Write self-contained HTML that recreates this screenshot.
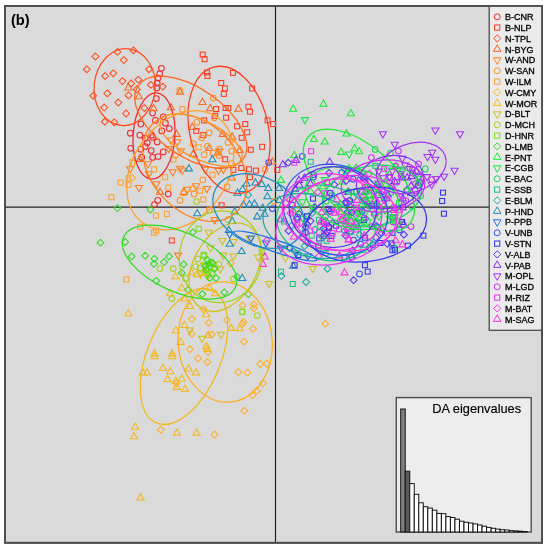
<!DOCTYPE html>
<html><head><meta charset="utf-8"><title>DAPC scatter (b)</title>
<style>html,body{margin:0;padding:0;background:#fff}svg{display:block}</style></head>
<body>
<svg width="547" height="550" viewBox="0 0 547 550" font-family="'Liberation Sans', Arial, sans-serif">
<rect x="0" y="0" width="547" height="550" fill="#fff"/>
<rect x="4.9" y="5.9" width="537.2" height="536.9" fill="#dadada" stroke="#4d4d4d" stroke-width="1.8"/>
<line x1="4.9" x2="542.1" y1="207.2" y2="207.2" stroke="#222" stroke-width="1.2"/>
<line y1="5.9" y2="542.8" x1="275.5" x2="275.5" stroke="#222" stroke-width="1.2"/>
<g id="pts">
<circle cx="161.4" cy="68.3" r="2.85" fill="none" stroke="#f02a30" stroke-width="1.05"/>
<circle cx="159.6" cy="73.8" r="2.85" fill="none" stroke="#f02a30" stroke-width="1.05"/>
<circle cx="158.1" cy="78.0" r="2.85" fill="none" stroke="#f02a30" stroke-width="1.05"/>
<circle cx="157.2" cy="83.0" r="2.85" fill="none" stroke="#f02a30" stroke-width="1.05"/>
<circle cx="156.7" cy="87.9" r="2.85" fill="none" stroke="#f02a30" stroke-width="1.05"/>
<circle cx="156.3" cy="98.5" r="2.85" fill="none" stroke="#f02a30" stroke-width="1.05"/>
<circle cx="152.6" cy="113.1" r="2.85" fill="none" stroke="#f02a30" stroke-width="1.05"/>
<circle cx="163.2" cy="116.8" r="2.85" fill="none" stroke="#f02a30" stroke-width="1.05"/>
<circle cx="155.4" cy="120.4" r="2.85" fill="none" stroke="#f02a30" stroke-width="1.05"/>
<circle cx="140.8" cy="124.1" r="2.85" fill="none" stroke="#f02a30" stroke-width="1.05"/>
<circle cx="161.8" cy="130.9" r="2.85" fill="none" stroke="#f02a30" stroke-width="1.05"/>
<circle cx="130.3" cy="133.2" r="2.85" fill="none" stroke="#f02a30" stroke-width="1.05"/>
<circle cx="139.8" cy="135.1" r="2.85" fill="none" stroke="#f02a30" stroke-width="1.05"/>
<circle cx="151.7" cy="135.1" r="2.85" fill="none" stroke="#f02a30" stroke-width="1.05"/>
<circle cx="165.4" cy="123.2" r="2.85" fill="none" stroke="#f02a30" stroke-width="1.05"/>
<circle cx="145.3" cy="138.2" r="2.85" fill="none" stroke="#f02a30" stroke-width="1.05"/>
<circle cx="152.6" cy="137.3" r="2.85" fill="none" stroke="#f02a30" stroke-width="1.05"/>
<circle cx="147.2" cy="142.8" r="2.85" fill="none" stroke="#f02a30" stroke-width="1.05"/>
<circle cx="157.2" cy="141.9" r="2.85" fill="none" stroke="#f02a30" stroke-width="1.05"/>
<circle cx="130.7" cy="148.3" r="2.85" fill="none" stroke="#f02a30" stroke-width="1.05"/>
<circle cx="140.8" cy="149.2" r="2.85" fill="none" stroke="#f02a30" stroke-width="1.05"/>
<circle cx="145.3" cy="146.5" r="2.85" fill="none" stroke="#f02a30" stroke-width="1.05"/>
<circle cx="152.6" cy="157.4" r="2.85" fill="none" stroke="#f02a30" stroke-width="1.05"/>
<circle cx="158.1" cy="156.5" r="2.85" fill="none" stroke="#f02a30" stroke-width="1.05"/>
<circle cx="163.2" cy="151.9" r="2.85" fill="none" stroke="#f02a30" stroke-width="1.05"/>
<circle cx="151.2" cy="150.5" r="2.85" fill="none" stroke="#f02a30" stroke-width="1.05"/>
<circle cx="168.2" cy="194.0" r="2.85" fill="none" stroke="#f02a30" stroke-width="1.05"/>
<circle cx="157.8" cy="200.4" r="2.85" fill="none" stroke="#f02a30" stroke-width="1.05"/>
<circle cx="154.5" cy="204.6" r="2.85" fill="none" stroke="#f02a30" stroke-width="1.05"/>
<circle cx="141.7" cy="157.4" r="2.85" fill="none" stroke="#f02a30" stroke-width="1.05"/>
<circle cx="169.3" cy="128.5" r="2.85" fill="none" stroke="#f02a30" stroke-width="1.05"/>
<rect x="200.22" y="52.12" width="4.96" height="4.96" fill="none" stroke="#ff3a20" stroke-width="1.05"/>
<rect x="202.12" y="56.72" width="4.96" height="4.96" fill="none" stroke="#ff3a20" stroke-width="1.05"/>
<rect x="204.42" y="70.02" width="4.96" height="4.96" fill="none" stroke="#ff3a20" stroke-width="1.05"/>
<rect x="205.02" y="73.52" width="4.96" height="4.96" fill="none" stroke="#ff3a20" stroke-width="1.05"/>
<rect x="230.42" y="70.42" width="4.96" height="4.96" fill="none" stroke="#ff3a20" stroke-width="1.05"/>
<rect x="218.72" y="80.52" width="4.96" height="4.96" fill="none" stroke="#ff3a20" stroke-width="1.05"/>
<rect x="222.42" y="85.92" width="4.96" height="4.96" fill="none" stroke="#ff3a20" stroke-width="1.05"/>
<rect x="221.32" y="91.42" width="4.96" height="4.96" fill="none" stroke="#ff3a20" stroke-width="1.05"/>
<rect x="249.62" y="85.92" width="4.96" height="4.96" fill="none" stroke="#ff3a20" stroke-width="1.05"/>
<rect x="213.62" y="106.62" width="4.96" height="4.96" fill="none" stroke="#ff3a20" stroke-width="1.05"/>
<rect x="223.12" y="105.52" width="4.96" height="4.96" fill="none" stroke="#ff3a20" stroke-width="1.05"/>
<rect x="225.82" y="105.52" width="4.96" height="4.96" fill="none" stroke="#ff3a20" stroke-width="1.05"/>
<rect x="245.92" y="104.22" width="4.96" height="4.96" fill="none" stroke="#ff3a20" stroke-width="1.05"/>
<rect x="247.42" y="109.22" width="4.96" height="4.96" fill="none" stroke="#ff3a20" stroke-width="1.05"/>
<rect x="212.72" y="113.42" width="4.96" height="4.96" fill="none" stroke="#ff3a20" stroke-width="1.05"/>
<rect x="223.62" y="115.22" width="4.96" height="4.96" fill="none" stroke="#ff3a20" stroke-width="1.05"/>
<rect x="201.72" y="117.92" width="4.96" height="4.96" fill="none" stroke="#ff3a20" stroke-width="1.05"/>
<rect x="242.82" y="121.62" width="4.96" height="4.96" fill="none" stroke="#ff3a20" stroke-width="1.05"/>
<rect x="234.62" y="123.82" width="4.96" height="4.96" fill="none" stroke="#ff3a20" stroke-width="1.05"/>
<rect x="265.12" y="117.92" width="4.96" height="4.96" fill="none" stroke="#ff3a20" stroke-width="1.05"/>
<rect x="270.62" y="121.62" width="4.96" height="4.96" fill="none" stroke="#ff3a20" stroke-width="1.05"/>
<rect x="244.72" y="129.82" width="4.96" height="4.96" fill="none" stroke="#ff3a20" stroke-width="1.05"/>
<rect x="193.82" y="128.42" width="4.96" height="4.96" fill="none" stroke="#ff3a20" stroke-width="1.05"/>
<rect x="200.82" y="132.62" width="4.96" height="4.96" fill="none" stroke="#ff3a20" stroke-width="1.05"/>
<rect x="239.22" y="135.32" width="4.96" height="4.96" fill="none" stroke="#ff3a20" stroke-width="1.05"/>
<rect x="259.62" y="144.32" width="4.96" height="4.96" fill="none" stroke="#ff3a20" stroke-width="1.05"/>
<rect x="248.32" y="147.22" width="4.96" height="4.96" fill="none" stroke="#ff3a20" stroke-width="1.05"/>
<rect x="222.72" y="156.82" width="4.96" height="4.96" fill="none" stroke="#ff3a20" stroke-width="1.05"/>
<rect x="238.82" y="165.52" width="4.96" height="4.96" fill="none" stroke="#ff3a20" stroke-width="1.05"/>
<rect x="230.92" y="167.42" width="4.96" height="4.96" fill="none" stroke="#ff3a20" stroke-width="1.05"/>
<rect x="246.52" y="166.82" width="4.96" height="4.96" fill="none" stroke="#ff3a20" stroke-width="1.05"/>
<rect x="253.42" y="168.12" width="4.96" height="4.96" fill="none" stroke="#ff3a20" stroke-width="1.05"/>
<rect x="247.42" y="174.72" width="4.96" height="4.96" fill="none" stroke="#ff3a20" stroke-width="1.05"/>
<rect x="274.82" y="167.42" width="4.96" height="4.96" fill="none" stroke="#ff3a20" stroke-width="1.05"/>
<rect x="219.12" y="202.82" width="4.96" height="4.96" fill="none" stroke="#ff3a20" stroke-width="1.05"/>
<rect x="169.32" y="238.02" width="4.96" height="4.96" fill="none" stroke="#ff3a20" stroke-width="1.05"/>
<path d="M95.4 53.08L98.82 56.5L95.4 59.92L91.98 56.5Z" fill="none" stroke="#ff4c1c" stroke-width="1.05"/>
<path d="M86.8 65.88L90.22 69.3L86.8 72.72L83.38 69.3Z" fill="none" stroke="#ff4c1c" stroke-width="1.05"/>
<path d="M117.5 48.48L120.92 51.9L117.5 55.32L114.08 51.9Z" fill="none" stroke="#ff4c1c" stroke-width="1.05"/>
<path d="M133.4 46.98L136.82 50.4L133.4 53.82L129.98 50.4Z" fill="none" stroke="#ff4c1c" stroke-width="1.05"/>
<path d="M123.8 56.68L127.22 60.1L123.8 63.52L120.38 60.1Z" fill="none" stroke="#ff4c1c" stroke-width="1.05"/>
<path d="M113.3 69.88L116.72 73.3L113.3 76.72L109.88 73.3Z" fill="none" stroke="#ff4c1c" stroke-width="1.05"/>
<path d="M105.1 72.58L108.52 76.0L105.1 79.42L101.68 76.0Z" fill="none" stroke="#ff4c1c" stroke-width="1.05"/>
<path d="M122.5 77.68L125.92 81.1L122.5 84.52L119.08 81.1Z" fill="none" stroke="#ff4c1c" stroke-width="1.05"/>
<path d="M138.4 76.28L141.82 79.7L138.4 83.12L134.98 79.7Z" fill="none" stroke="#ff4c1c" stroke-width="1.05"/>
<path d="M131.1 80.08L134.52 83.5L131.1 86.92L127.68 83.5Z" fill="none" stroke="#ff4c1c" stroke-width="1.05"/>
<path d="M149.0 65.88L152.42 69.3L149.0 72.72L145.58 69.3Z" fill="none" stroke="#ff4c1c" stroke-width="1.05"/>
<path d="M150.8 81.38L154.22 84.8L150.8 88.22L147.38 84.8Z" fill="none" stroke="#ff4c1c" stroke-width="1.05"/>
<path d="M136.7 85.98L140.12 89.4L136.7 92.82L133.28 89.4Z" fill="none" stroke="#ff4c1c" stroke-width="1.05"/>
<path d="M128.5 91.98L131.92 95.4L128.5 98.82L125.08 95.4Z" fill="none" stroke="#ff4c1c" stroke-width="1.05"/>
<path d="M107.3 89.98L110.72 93.4L107.3 96.82L103.88 93.4Z" fill="none" stroke="#ff4c1c" stroke-width="1.05"/>
<path d="M93.2 92.38L96.62 95.8L93.2 99.22L89.78 95.8Z" fill="none" stroke="#ff4c1c" stroke-width="1.05"/>
<path d="M118.3 99.08L121.72 102.5L118.3 105.92L114.88 102.5Z" fill="none" stroke="#ff4c1c" stroke-width="1.05"/>
<path d="M104.2 104.18L107.62 107.6L104.2 111.02L100.78 107.6Z" fill="none" stroke="#ff4c1c" stroke-width="1.05"/>
<path d="M126.1 110.08L129.52 113.5L126.1 116.92L122.68 113.5Z" fill="none" stroke="#ff4c1c" stroke-width="1.05"/>
<path d="M104.7 118.28L108.12 121.7L104.7 125.12L101.28 121.7Z" fill="none" stroke="#ff4c1c" stroke-width="1.05"/>
<path d="M114.3 118.88L117.72 122.3L114.3 125.72L110.88 122.3Z" fill="none" stroke="#ff4c1c" stroke-width="1.05"/>
<path d="M144.4 104.58L147.82 108.0L144.4 111.42L140.98 108.0Z" fill="none" stroke="#ff4c1c" stroke-width="1.05"/>
<path d="M162.7 83.18L166.12 86.6L162.7 90.02L159.28 86.6Z" fill="none" stroke="#ff4c1c" stroke-width="1.05"/>
<path d="M128.3 83.77L131.88 89.97L124.72 89.97Z" fill="none" stroke="#ff661a" stroke-width="1.05"/>
<path d="M138.9 92.57L142.48 98.77L135.32 98.77Z" fill="none" stroke="#ff661a" stroke-width="1.05"/>
<path d="M153.6 104.47L157.18 110.67L150.02 110.67Z" fill="none" stroke="#ff661a" stroke-width="1.05"/>
<path d="M170.9 103.47L174.48 109.67L167.32 109.67Z" fill="none" stroke="#ff661a" stroke-width="1.05"/>
<path d="M180.1 87.97L183.68 94.17L176.52 94.17Z" fill="none" stroke="#ff661a" stroke-width="1.05"/>
<path d="M202.4 98.37L205.98 104.57L198.82 104.57Z" fill="none" stroke="#ff661a" stroke-width="1.05"/>
<path d="M210.2 104.47L213.78 110.67L206.62 110.67Z" fill="none" stroke="#ff661a" stroke-width="1.05"/>
<path d="M238.4 104.97L241.98 111.17L234.82 111.17Z" fill="none" stroke="#ff661a" stroke-width="1.05"/>
<path d="M222.8 130.37L226.38 136.57L219.22 136.57Z" fill="none" stroke="#ff661a" stroke-width="1.05"/>
<path d="M239.8 146.37L243.38 152.57L236.22 152.57Z" fill="none" stroke="#ff661a" stroke-width="1.05"/>
<path d="M217.9 148.77L221.48 154.97L214.32 154.97Z" fill="none" stroke="#ff661a" stroke-width="1.05"/>
<path d="M272.4 157.87L275.98 164.07L268.82 164.07Z" fill="none" stroke="#ff661a" stroke-width="1.05"/>
<path d="M139.8 155.17L143.38 161.37L136.22 161.37Z" fill="none" stroke="#ff661a" stroke-width="1.05"/>
<path d="M160.0 188.07L163.58 194.27L156.42 194.27Z" fill="none" stroke="#ff661a" stroke-width="1.05"/>
<path d="M176.6 130.17L180.18 136.37L173.02 136.37Z" fill="none" stroke="#ff661a" stroke-width="1.05"/>
<path d="M183.7 188.37L187.28 194.57L180.12 194.57Z" fill="none" stroke="#ff661a" stroke-width="1.05"/>
<path d="M232.2 132.97L235.78 139.17L228.62 139.17Z" fill="none" stroke="#ff661a" stroke-width="1.05"/>
<path d="M193.3 150.17L196.88 156.37L189.72 156.37Z" fill="none" stroke="#ff661a" stroke-width="1.05"/>
<path d="M209.3 144.27L212.88 150.47L205.72 150.47Z" fill="none" stroke="#ff661a" stroke-width="1.05"/>
<path d="M231.7 173.87L235.28 180.07L228.12 180.07Z" fill="none" stroke="#ff661a" stroke-width="1.05"/>
<path d="M192.3 123.17L195.88 129.37L188.72 129.37Z" fill="none" stroke="#ff661a" stroke-width="1.05"/>
<path d="M223.4 173.43L226.98 167.23L219.82 167.23Z" fill="none" stroke="#ff7e1e" stroke-width="1.05"/>
<path d="M206.9 192.63L210.48 186.43L203.32 186.43Z" fill="none" stroke="#ff7e1e" stroke-width="1.05"/>
<path d="M196.0 189.93L199.58 183.73L192.42 183.73Z" fill="none" stroke="#ff7e1e" stroke-width="1.05"/>
<path d="M205.1 173.43L208.68 167.23L201.52 167.23Z" fill="none" stroke="#ff7e1e" stroke-width="1.05"/>
<path d="M130.2 173.03L133.78 166.83L126.62 166.83Z" fill="none" stroke="#ff7e1e" stroke-width="1.05"/>
<path d="M138.9 191.73L142.48 185.53L135.32 185.53Z" fill="none" stroke="#ff7e1e" stroke-width="1.05"/>
<path d="M148.1 167.93L151.68 161.73L144.52 161.73Z" fill="none" stroke="#ff7e1e" stroke-width="1.05"/>
<path d="M149.0 178.03L152.58 171.83L145.42 171.83Z" fill="none" stroke="#ff7e1e" stroke-width="1.05"/>
<path d="M156.3 188.03L159.88 181.83L152.72 181.83Z" fill="none" stroke="#ff7e1e" stroke-width="1.05"/>
<path d="M180.1 172.53L183.68 166.33L176.52 166.33Z" fill="none" stroke="#ff7e1e" stroke-width="1.05"/>
<path d="M170.9 144.23L174.48 138.03L167.32 138.03Z" fill="none" stroke="#ff7e1e" stroke-width="1.05"/>
<path d="M177.3 146.03L180.88 139.83L173.72 139.83Z" fill="none" stroke="#ff7e1e" stroke-width="1.05"/>
<path d="M178.2 259.33L181.78 253.13L174.62 253.13Z" fill="none" stroke="#ff7e1e" stroke-width="1.05"/>
<path d="M180.9 155.03L184.48 148.83L177.32 148.83Z" fill="none" stroke="#ff7e1e" stroke-width="1.05"/>
<path d="M182.5 174.23L186.08 168.03L178.92 168.03Z" fill="none" stroke="#ff7e1e" stroke-width="1.05"/>
<path d="M218.4 174.33L221.98 168.13L214.82 168.13Z" fill="none" stroke="#ff7e1e" stroke-width="1.05"/>
<path d="M214.6 223.63L218.18 217.43L211.02 217.43Z" fill="none" stroke="#ff7e1e" stroke-width="1.05"/>
<path d="M187.4 193.43L190.98 187.23L183.82 187.23Z" fill="none" stroke="#ff7e1e" stroke-width="1.05"/>
<path d="M168.9 152.63L172.48 146.43L165.32 146.43Z" fill="none" stroke="#ff7e1e" stroke-width="1.05"/>
<path d="M172.7 176.03L176.28 169.83L169.12 169.83Z" fill="none" stroke="#ff7e1e" stroke-width="1.05"/>
<path d="M219.2 155.13L222.78 148.93L215.62 148.93Z" fill="none" stroke="#ff7e1e" stroke-width="1.05"/>
<circle cx="179.7" cy="90.3" r="2.85" fill="none" stroke="#ff9228" stroke-width="1.05"/>
<circle cx="213.3" cy="98.1" r="2.85" fill="none" stroke="#ff9228" stroke-width="1.05"/>
<circle cx="214.3" cy="117.7" r="2.85" fill="none" stroke="#ff9228" stroke-width="1.05"/>
<circle cx="196.9" cy="122.3" r="2.85" fill="none" stroke="#ff9228" stroke-width="1.05"/>
<circle cx="228.0" cy="142.4" r="2.85" fill="none" stroke="#ff9228" stroke-width="1.05"/>
<circle cx="231.6" cy="151.0" r="2.85" fill="none" stroke="#ff9228" stroke-width="1.05"/>
<circle cx="204.2" cy="154.7" r="2.85" fill="none" stroke="#ff9228" stroke-width="1.05"/>
<circle cx="193.2" cy="143.7" r="2.85" fill="none" stroke="#ff9228" stroke-width="1.05"/>
<circle cx="227.0" cy="186.7" r="2.85" fill="none" stroke="#ff9228" stroke-width="1.05"/>
<circle cx="265.1" cy="169.3" r="2.85" fill="none" stroke="#ff9228" stroke-width="1.05"/>
<circle cx="274.2" cy="201.3" r="2.85" fill="none" stroke="#ff9228" stroke-width="1.05"/>
<circle cx="180.1" cy="200.4" r="2.85" fill="none" stroke="#ff9228" stroke-width="1.05"/>
<circle cx="175.5" cy="155.6" r="2.85" fill="none" stroke="#ff9228" stroke-width="1.05"/>
<circle cx="182.4" cy="109.3" r="2.85" fill="none" stroke="#ff9228" stroke-width="1.05"/>
<circle cx="201.8" cy="137.8" r="2.85" fill="none" stroke="#ff9228" stroke-width="1.05"/>
<circle cx="202.8" cy="179.8" r="2.85" fill="none" stroke="#ff9228" stroke-width="1.05"/>
<circle cx="194.1" cy="193.9" r="2.85" fill="none" stroke="#ff9228" stroke-width="1.05"/>
<circle cx="209.4" cy="209.9" r="2.85" fill="none" stroke="#ff9228" stroke-width="1.05"/>
<circle cx="219.4" cy="149.0" r="2.85" fill="none" stroke="#ff9228" stroke-width="1.05"/>
<circle cx="231.4" cy="163.7" r="2.85" fill="none" stroke="#ff9228" stroke-width="1.05"/>
<circle cx="209.1" cy="132.9" r="2.85" fill="none" stroke="#ff9228" stroke-width="1.05"/>
<circle cx="219.0" cy="155.4" r="2.85" fill="none" stroke="#ff9228" stroke-width="1.05"/>
<circle cx="213.1" cy="153.1" r="2.85" fill="none" stroke="#ff9228" stroke-width="1.05"/>
<circle cx="207.4" cy="146.1" r="2.85" fill="none" stroke="#ff9228" stroke-width="1.05"/>
<rect x="196.22" y="144.92" width="4.96" height="4.96" fill="none" stroke="#ffa02c" stroke-width="1.05"/>
<rect x="209.92" y="172.32" width="4.96" height="4.96" fill="none" stroke="#ffa02c" stroke-width="1.05"/>
<rect x="200.82" y="197.02" width="4.96" height="4.96" fill="none" stroke="#ffa02c" stroke-width="1.05"/>
<rect x="109.02" y="194.82" width="4.96" height="4.96" fill="none" stroke="#ffa02c" stroke-width="1.05"/>
<rect x="118.12" y="180.22" width="4.96" height="4.96" fill="none" stroke="#ffa02c" stroke-width="1.05"/>
<rect x="125.82" y="175.92" width="4.96" height="4.96" fill="none" stroke="#ffa02c" stroke-width="1.05"/>
<rect x="126.02" y="182.32" width="4.96" height="4.96" fill="none" stroke="#ffa02c" stroke-width="1.05"/>
<rect x="129.72" y="160.02" width="4.96" height="4.96" fill="none" stroke="#ffa02c" stroke-width="1.05"/>
<rect x="151.62" y="166.82" width="4.96" height="4.96" fill="none" stroke="#ffa02c" stroke-width="1.05"/>
<rect x="162.62" y="174.72" width="4.96" height="4.96" fill="none" stroke="#ffa02c" stroke-width="1.05"/>
<rect x="165.72" y="185.12" width="4.96" height="4.96" fill="none" stroke="#ffa02c" stroke-width="1.05"/>
<rect x="153.42" y="213.12" width="4.96" height="4.96" fill="none" stroke="#ffa02c" stroke-width="1.05"/>
<rect x="164.42" y="211.62" width="4.96" height="4.96" fill="none" stroke="#ffa02c" stroke-width="1.05"/>
<rect x="181.22" y="190.62" width="4.96" height="4.96" fill="none" stroke="#ffa02c" stroke-width="1.05"/>
<rect x="123.92" y="277.02" width="4.96" height="4.96" fill="none" stroke="#ffa02c" stroke-width="1.05"/>
<rect x="151.42" y="230.22" width="4.96" height="4.96" fill="none" stroke="#ffa02c" stroke-width="1.05"/>
<rect x="153.72" y="228.02" width="4.96" height="4.96" fill="none" stroke="#ffa02c" stroke-width="1.05"/>
<rect x="137.82" y="224.32" width="4.96" height="4.96" fill="none" stroke="#ffa02c" stroke-width="1.05"/>
<rect x="190.22" y="186.12" width="4.96" height="4.96" fill="none" stroke="#ffa02c" stroke-width="1.05"/>
<rect x="197.62" y="188.22" width="4.96" height="4.96" fill="none" stroke="#ffa02c" stroke-width="1.05"/>
<rect x="170.92" y="157.12" width="4.96" height="4.96" fill="none" stroke="#ffa02c" stroke-width="1.05"/>
<path d="M325.3 320.28L328.72 323.7L325.3 327.12L321.88 323.7Z" fill="none" stroke="#ffae22" stroke-width="1.05"/>
<path d="M132.2 174.48L135.62 177.9L132.2 181.32L128.78 177.9Z" fill="none" stroke="#ffae22" stroke-width="1.05"/>
<path d="M191.9 315.68L195.32 319.1L191.9 322.52L188.48 319.1Z" fill="none" stroke="#ffae22" stroke-width="1.05"/>
<path d="M230.6 259.98L234.02 263.4L230.6 266.82L227.18 263.4Z" fill="none" stroke="#ffae22" stroke-width="1.05"/>
<path d="M253.9 301.08L257.32 304.5L253.9 307.92L250.48 304.5Z" fill="none" stroke="#ffae22" stroke-width="1.05"/>
<path d="M253.9 304.78L257.32 308.2L253.9 311.62L250.48 308.2Z" fill="none" stroke="#ffae22" stroke-width="1.05"/>
<path d="M242.5 301.98L245.92 305.4L242.5 308.82L239.08 305.4Z" fill="none" stroke="#ffae22" stroke-width="1.05"/>
<path d="M203.2 305.68L206.62 309.1L203.2 312.52L199.78 309.1Z" fill="none" stroke="#ffae22" stroke-width="1.05"/>
<path d="M227.0 316.68L230.42 320.1L227.0 323.52L223.58 320.1Z" fill="none" stroke="#ffae22" stroke-width="1.05"/>
<path d="M243.4 318.48L246.82 321.9L243.4 325.32L239.98 321.9Z" fill="none" stroke="#ffae22" stroke-width="1.05"/>
<path d="M208.7 319.38L212.12 322.8L208.7 326.22L205.28 322.8Z" fill="none" stroke="#ffae22" stroke-width="1.05"/>
<path d="M191.7 330.28L195.12 333.7L191.7 337.12L188.28 333.7Z" fill="none" stroke="#ffae22" stroke-width="1.05"/>
<path d="M189.9 345.88L193.32 349.3L189.9 352.72L186.48 349.3Z" fill="none" stroke="#ffae22" stroke-width="1.05"/>
<path d="M198.1 354.98L201.52 358.4L198.1 361.82L194.68 358.4Z" fill="none" stroke="#ffae22" stroke-width="1.05"/>
<path d="M207.3 358.58L210.72 362.0L207.3 365.42L203.88 362.0Z" fill="none" stroke="#ffae22" stroke-width="1.05"/>
<path d="M176.2 379.68L179.62 383.1L176.2 386.52L172.78 383.1Z" fill="none" stroke="#ffae22" stroke-width="1.05"/>
<path d="M211.8 331.18L215.22 334.6L211.8 338.02L208.38 334.6Z" fill="none" stroke="#ffae22" stroke-width="1.05"/>
<path d="M208.2 348.58L211.62 352.0L208.2 355.42L204.78 352.0Z" fill="none" stroke="#ffae22" stroke-width="1.05"/>
<path d="M242.4 320.38L245.82 323.8L242.4 327.22L238.98 323.8Z" fill="none" stroke="#ffae22" stroke-width="1.05"/>
<path d="M253.0 325.48L256.42 328.9L253.0 332.32L249.58 328.9Z" fill="none" stroke="#ffae22" stroke-width="1.05"/>
<path d="M243.9 338.28L247.32 341.7L243.9 345.12L240.48 341.7Z" fill="none" stroke="#ffae22" stroke-width="1.05"/>
<path d="M260.3 360.58L263.72 364.0L260.3 367.42L256.88 364.0Z" fill="none" stroke="#ffae22" stroke-width="1.05"/>
<path d="M266.7 360.18L270.12 363.6L266.7 367.02L263.28 363.6Z" fill="none" stroke="#ffae22" stroke-width="1.05"/>
<path d="M238.4 368.78L241.82 372.2L238.4 375.62L234.98 372.2Z" fill="none" stroke="#ffae22" stroke-width="1.05"/>
<path d="M247.4 369.18L250.82 372.6L247.4 376.02L243.98 372.6Z" fill="none" stroke="#ffae22" stroke-width="1.05"/>
<path d="M262.9 379.78L266.32 383.2L262.9 386.62L259.48 383.2Z" fill="none" stroke="#ffae22" stroke-width="1.05"/>
<path d="M256.7 387.48L260.12 390.9L256.7 394.32L253.28 390.9Z" fill="none" stroke="#ffae22" stroke-width="1.05"/>
<path d="M252.5 391.68L255.92 395.1L252.5 398.52L249.08 395.1Z" fill="none" stroke="#ffae22" stroke-width="1.05"/>
<path d="M160.9 426.38L164.32 429.8L160.9 433.22L157.48 429.8Z" fill="none" stroke="#ffae22" stroke-width="1.05"/>
<path d="M214.5 431.08L217.92 434.5L214.5 437.92L211.08 434.5Z" fill="none" stroke="#ffae22" stroke-width="1.05"/>
<path d="M244.3 407.38L247.72 410.8L244.3 414.22L240.88 410.8Z" fill="none" stroke="#ffae22" stroke-width="1.05"/>
<path d="M128.3 309.57L131.88 315.77L124.72 315.77Z" fill="none" stroke="#f2b81a" stroke-width="1.05"/>
<path d="M175.4 272.47L178.98 278.67L171.82 278.67Z" fill="none" stroke="#f2b81a" stroke-width="1.05"/>
<path d="M170.0 289.47L173.58 295.67L166.42 295.67Z" fill="none" stroke="#f2b81a" stroke-width="1.05"/>
<path d="M184.6 294.87L188.18 301.07L181.02 301.07Z" fill="none" stroke="#f2b81a" stroke-width="1.05"/>
<path d="M190.1 302.27L193.68 308.47L186.52 308.47Z" fill="none" stroke="#f2b81a" stroke-width="1.05"/>
<path d="M181.8 283.97L185.38 290.17L178.22 290.17Z" fill="none" stroke="#f2b81a" stroke-width="1.05"/>
<path d="M209.6 283.97L213.18 290.17L206.02 290.17Z" fill="none" stroke="#f2b81a" stroke-width="1.05"/>
<path d="M215.1 289.47L218.68 295.67L211.52 295.67Z" fill="none" stroke="#f2b81a" stroke-width="1.05"/>
<path d="M206.0 310.47L209.58 316.67L202.42 316.67Z" fill="none" stroke="#f2b81a" stroke-width="1.05"/>
<path d="M204.1 269.27L207.68 275.47L200.52 275.47Z" fill="none" stroke="#f2b81a" stroke-width="1.05"/>
<path d="M154.6 349.67L158.18 355.87L151.02 355.87Z" fill="none" stroke="#f2b81a" stroke-width="1.05"/>
<path d="M154.6 352.47L158.18 358.67L151.02 358.67Z" fill="none" stroke="#f2b81a" stroke-width="1.05"/>
<path d="M172.2 349.67L175.78 355.87L168.62 355.87Z" fill="none" stroke="#f2b81a" stroke-width="1.05"/>
<path d="M172.2 352.47L175.78 358.67L168.62 358.67Z" fill="none" stroke="#f2b81a" stroke-width="1.05"/>
<path d="M175.8 326.47L179.38 332.67L172.22 332.67Z" fill="none" stroke="#f2b81a" stroke-width="1.05"/>
<path d="M180.8 338.17L184.38 344.37L177.22 344.37Z" fill="none" stroke="#f2b81a" stroke-width="1.05"/>
<path d="M184.4 321.37L187.98 327.57L180.82 327.57Z" fill="none" stroke="#f2b81a" stroke-width="1.05"/>
<path d="M162.8 364.27L166.38 370.47L159.22 370.47Z" fill="none" stroke="#f2b81a" stroke-width="1.05"/>
<path d="M170.3 367.57L173.88 373.77L166.72 373.77Z" fill="none" stroke="#f2b81a" stroke-width="1.05"/>
<path d="M142.9 368.87L146.48 375.07L139.32 375.07Z" fill="none" stroke="#f2b81a" stroke-width="1.05"/>
<path d="M146.9 368.87L150.48 375.07L143.32 375.07Z" fill="none" stroke="#f2b81a" stroke-width="1.05"/>
<path d="M167.6 375.27L171.18 381.47L164.02 381.47Z" fill="none" stroke="#f2b81a" stroke-width="1.05"/>
<path d="M175.8 377.07L179.38 383.27L172.22 383.27Z" fill="none" stroke="#f2b81a" stroke-width="1.05"/>
<path d="M181.7 374.77L185.28 380.97L178.12 380.97Z" fill="none" stroke="#f2b81a" stroke-width="1.05"/>
<path d="M188.6 364.87L192.18 371.07L185.02 371.07Z" fill="none" stroke="#f2b81a" stroke-width="1.05"/>
<path d="M195.9 368.87L199.48 375.07L192.32 375.07Z" fill="none" stroke="#f2b81a" stroke-width="1.05"/>
<path d="M176.6 383.17L180.18 389.37L173.02 389.37Z" fill="none" stroke="#f2b81a" stroke-width="1.05"/>
<path d="M185.0 384.97L188.58 391.17L181.42 391.17Z" fill="none" stroke="#f2b81a" stroke-width="1.05"/>
<path d="M206.4 342.37L209.98 348.57L202.82 348.57Z" fill="none" stroke="#f2b81a" stroke-width="1.05"/>
<path d="M207.3 345.17L210.88 351.37L203.72 351.37Z" fill="none" stroke="#f2b81a" stroke-width="1.05"/>
<path d="M208.2 331.37L211.78 337.57L204.62 337.57Z" fill="none" stroke="#f2b81a" stroke-width="1.05"/>
<path d="M231.1 324.17L234.68 330.37L227.52 330.37Z" fill="none" stroke="#f2b81a" stroke-width="1.05"/>
<path d="M239.7 324.57L243.28 330.77L236.12 330.77Z" fill="none" stroke="#f2b81a" stroke-width="1.05"/>
<path d="M135.2 423.07L138.78 429.27L131.62 429.27Z" fill="none" stroke="#f2b81a" stroke-width="1.05"/>
<path d="M134.0 432.47L137.58 438.67L130.42 438.67Z" fill="none" stroke="#f2b81a" stroke-width="1.05"/>
<path d="M177.0 428.97L180.58 435.17L173.42 435.17Z" fill="none" stroke="#f2b81a" stroke-width="1.05"/>
<path d="M196.6 428.97L200.18 435.17L193.02 435.17Z" fill="none" stroke="#f2b81a" stroke-width="1.05"/>
<path d="M140.5 493.87L144.08 500.07L136.92 500.07Z" fill="none" stroke="#f2b81a" stroke-width="1.05"/>
<path d="M197.1 270.47L200.68 276.67L193.52 276.67Z" fill="none" stroke="#f2b81a" stroke-width="1.05"/>
<path d="M191.6 268.67L195.18 274.87L188.02 274.87Z" fill="none" stroke="#f2b81a" stroke-width="1.05"/>
<path d="M285.4 262.03L288.98 255.83L281.82 255.83Z" fill="none" stroke="#d0c020" stroke-width="1.05"/>
<path d="M312.8 272.63L316.38 266.43L309.22 266.43Z" fill="none" stroke="#d0c020" stroke-width="1.05"/>
<path d="M222.4 244.63L225.98 238.43L218.82 238.43Z" fill="none" stroke="#d0c020" stroke-width="1.05"/>
<path d="M208.7 236.43L212.28 230.23L205.12 230.23Z" fill="none" stroke="#d0c020" stroke-width="1.05"/>
<path d="M210.5 252.03L214.08 245.83L206.92 245.83Z" fill="none" stroke="#d0c020" stroke-width="1.05"/>
<path d="M223.3 259.33L226.88 253.13L219.72 253.13Z" fill="none" stroke="#d0c020" stroke-width="1.05"/>
<path d="M233.4 260.23L236.98 254.03L229.82 254.03Z" fill="none" stroke="#d0c020" stroke-width="1.05"/>
<path d="M269.0 287.63L272.58 281.43L265.42 281.43Z" fill="none" stroke="#d0c020" stroke-width="1.05"/>
<path d="M249.8 242.83L253.38 236.63L246.22 236.63Z" fill="none" stroke="#d0c020" stroke-width="1.05"/>
<path d="M258.1 261.13L261.68 254.93L254.52 254.93Z" fill="none" stroke="#d0c020" stroke-width="1.05"/>
<path d="M204.1 269.33L207.68 263.13L200.52 263.13Z" fill="none" stroke="#d0c020" stroke-width="1.05"/>
<path d="M233.4 245.63L236.98 239.43L229.82 239.43Z" fill="none" stroke="#d0c020" stroke-width="1.05"/>
<path d="M202.1 342.43L205.68 336.23L198.52 336.23Z" fill="none" stroke="#d0c020" stroke-width="1.05"/>
<path d="M221.0 338.43L224.58 332.23L217.42 332.23Z" fill="none" stroke="#d0c020" stroke-width="1.05"/>
<path d="M189.9 334.23L193.48 328.03L186.32 328.03Z" fill="none" stroke="#d0c020" stroke-width="1.05"/>
<path d="M207.7 279.63L211.28 273.43L204.12 273.43Z" fill="none" stroke="#d0c020" stroke-width="1.05"/>
<path d="M200.5 278.13L204.08 271.93L196.92 271.93Z" fill="none" stroke="#d0c020" stroke-width="1.05"/>
<path d="M205.2 270.53L208.78 264.33L201.62 264.33Z" fill="none" stroke="#d0c020" stroke-width="1.05"/>
<path d="M220.3 273.03L223.88 266.83L216.72 266.83Z" fill="none" stroke="#d0c020" stroke-width="1.05"/>
<path d="M206.7 276.53L210.28 270.33L203.12 270.33Z" fill="none" stroke="#d0c020" stroke-width="1.05"/>
<circle cx="159.9" cy="268.5" r="2.85" fill="none" stroke="#a6d020" stroke-width="1.05"/>
<circle cx="173.2" cy="268.5" r="2.85" fill="none" stroke="#a6d020" stroke-width="1.05"/>
<circle cx="171.8" cy="298.5" r="2.85" fill="none" stroke="#a6d020" stroke-width="1.05"/>
<circle cx="185.5" cy="278.4" r="2.85" fill="none" stroke="#a6d020" stroke-width="1.05"/>
<circle cx="242.2" cy="311.8" r="2.85" fill="none" stroke="#a6d020" stroke-width="1.05"/>
<circle cx="257.2" cy="315.5" r="2.85" fill="none" stroke="#a6d020" stroke-width="1.05"/>
<circle cx="200.5" cy="268.0" r="2.85" fill="none" stroke="#a6d020" stroke-width="1.05"/>
<circle cx="218.8" cy="264.3" r="2.85" fill="none" stroke="#a6d020" stroke-width="1.05"/>
<circle cx="233.4" cy="278.9" r="2.85" fill="none" stroke="#a6d020" stroke-width="1.05"/>
<circle cx="207.8" cy="274.4" r="2.85" fill="none" stroke="#a6d020" stroke-width="1.05"/>
<circle cx="213.3" cy="264.3" r="2.85" fill="none" stroke="#a6d020" stroke-width="1.05"/>
<circle cx="196.6" cy="201.6" r="2.85" fill="none" stroke="#a6d020" stroke-width="1.05"/>
<circle cx="228.0" cy="219.5" r="2.85" fill="none" stroke="#a6d020" stroke-width="1.05"/>
<circle cx="214.9" cy="267.8" r="2.85" fill="none" stroke="#a6d020" stroke-width="1.05"/>
<circle cx="211.1" cy="262.2" r="2.85" fill="none" stroke="#a6d020" stroke-width="1.05"/>
<circle cx="204.4" cy="265.4" r="2.85" fill="none" stroke="#a6d020" stroke-width="1.05"/>
<circle cx="197.7" cy="258.9" r="2.85" fill="none" stroke="#a6d020" stroke-width="1.05"/>
<circle cx="195.6" cy="266.6" r="2.85" fill="none" stroke="#a6d020" stroke-width="1.05"/>
<rect x="259.22" y="249.02" width="4.96" height="4.96" fill="none" stroke="#7edc20" stroke-width="1.05"/>
<rect x="196.22" y="226.22" width="4.96" height="4.96" fill="none" stroke="#7edc20" stroke-width="1.05"/>
<rect x="239.72" y="309.32" width="4.96" height="4.96" fill="none" stroke="#7edc20" stroke-width="1.05"/>
<rect x="203.52" y="268.22" width="4.96" height="4.96" fill="none" stroke="#7edc20" stroke-width="1.05"/>
<rect x="209.92" y="270.92" width="4.96" height="4.96" fill="none" stroke="#7edc20" stroke-width="1.05"/>
<rect x="201.72" y="253.42" width="4.96" height="4.96" fill="none" stroke="#7edc20" stroke-width="1.05"/>
<rect x="201.02" y="252.32" width="4.96" height="4.96" fill="none" stroke="#7edc20" stroke-width="1.05"/>
<path d="M117.5 204.68L120.92 208.1L117.5 211.52L114.08 208.1Z" fill="none" stroke="#30dc20" stroke-width="1.05"/>
<path d="M150.4 206.08L153.82 209.5L150.4 212.92L146.98 209.5Z" fill="none" stroke="#30dc20" stroke-width="1.05"/>
<path d="M100.5 239.28L103.92 242.7L100.5 246.12L97.08 242.7Z" fill="none" stroke="#30dc20" stroke-width="1.05"/>
<path d="M125.2 238.58L128.62 242.0L125.2 245.42L121.78 242.0Z" fill="none" stroke="#30dc20" stroke-width="1.05"/>
<path d="M131.6 252.98L135.02 256.4L131.6 259.82L128.18 256.4Z" fill="none" stroke="#30dc20" stroke-width="1.05"/>
<path d="M145.3 252.28L148.72 255.7L145.3 259.12L141.88 255.7Z" fill="none" stroke="#30dc20" stroke-width="1.05"/>
<path d="M154.4 255.38L157.82 258.8L154.4 262.22L150.98 258.8Z" fill="none" stroke="#30dc20" stroke-width="1.05"/>
<path d="M153.9 260.38L157.32 263.8L153.9 267.22L150.48 263.8Z" fill="none" stroke="#30dc20" stroke-width="1.05"/>
<path d="M164.1 258.68L167.52 262.1L164.1 265.52L160.68 262.1Z" fill="none" stroke="#30dc20" stroke-width="1.05"/>
<path d="M169.0 252.98L172.42 256.4L169.0 259.82L165.58 256.4Z" fill="none" stroke="#30dc20" stroke-width="1.05"/>
<path d="M183.7 260.88L187.12 264.3L183.7 267.72L180.28 264.3Z" fill="none" stroke="#30dc20" stroke-width="1.05"/>
<path d="M181.8 269.48L185.22 272.9L181.8 276.32L178.38 272.9Z" fill="none" stroke="#30dc20" stroke-width="1.05"/>
<path d="M156.2 277.38L159.62 280.8L156.2 284.22L152.78 280.8Z" fill="none" stroke="#30dc20" stroke-width="1.05"/>
<path d="M188.2 286.48L191.62 289.9L188.2 293.32L184.78 289.9Z" fill="none" stroke="#30dc20" stroke-width="1.05"/>
<path d="M192.8 228.88L196.22 232.3L192.8 235.72L189.38 232.3Z" fill="none" stroke="#30dc20" stroke-width="1.05"/>
<path d="M208.7 260.38L212.12 263.8L208.7 267.22L205.28 263.8Z" fill="none" stroke="#30dc20" stroke-width="1.05"/>
<path d="M214.2 265.48L217.62 268.9L214.2 272.32L210.78 268.9Z" fill="none" stroke="#30dc20" stroke-width="1.05"/>
<path d="M209.6 274.58L213.02 278.0L209.6 281.42L206.18 278.0Z" fill="none" stroke="#30dc20" stroke-width="1.05"/>
<path d="M216.0 274.58L219.42 278.0L216.0 281.42L212.58 278.0Z" fill="none" stroke="#30dc20" stroke-width="1.05"/>
<path d="M202.3 290.68L205.72 294.1L202.3 297.52L198.88 294.1Z" fill="none" stroke="#30dc20" stroke-width="1.05"/>
<path d="M224.3 288.88L227.72 292.3L224.3 295.72L220.88 292.3Z" fill="none" stroke="#30dc20" stroke-width="1.05"/>
<path d="M248.4 290.68L251.82 294.1L248.4 297.52L244.98 294.1Z" fill="none" stroke="#30dc20" stroke-width="1.05"/>
<path d="M237.0 273.28L240.42 276.7L237.0 280.12L233.58 276.7Z" fill="none" stroke="#30dc20" stroke-width="1.05"/>
<path d="M205.8 262.68L209.22 266.1L205.8 269.52L202.38 266.1Z" fill="none" stroke="#30dc20" stroke-width="1.05"/>
<path d="M207.5 256.58L210.92 260.0L207.5 263.42L204.08 260.0Z" fill="none" stroke="#30dc20" stroke-width="1.05"/>
<path d="M206.4 265.98L209.82 269.4L206.4 272.82L202.98 269.4Z" fill="none" stroke="#30dc20" stroke-width="1.05"/>
<path d="M212.3 259.48L215.72 262.9L212.3 266.32L208.88 262.9Z" fill="none" stroke="#30dc20" stroke-width="1.05"/>
<path d="M281.0 176.17L284.58 182.37L277.42 182.37Z" fill="none" stroke="#1ee834" stroke-width="1.05"/>
<path d="M293.2 104.97L296.78 111.17L289.62 111.17Z" fill="none" stroke="#1ee834" stroke-width="1.05"/>
<path d="M323.5 100.07L327.08 106.27L319.92 106.27Z" fill="none" stroke="#1ee834" stroke-width="1.05"/>
<path d="M350.9 109.57L354.48 115.77L347.32 115.77Z" fill="none" stroke="#1ee834" stroke-width="1.05"/>
<path d="M346.4 129.87L349.98 136.07L342.82 136.07Z" fill="none" stroke="#1ee834" stroke-width="1.05"/>
<path d="M313.8 135.37L317.38 141.57L310.22 141.57Z" fill="none" stroke="#1ee834" stroke-width="1.05"/>
<path d="M324.8 137.87L328.38 144.07L321.22 144.07Z" fill="none" stroke="#1ee834" stroke-width="1.05"/>
<path d="M341.2 148.17L344.78 154.37L337.62 154.37Z" fill="none" stroke="#1ee834" stroke-width="1.05"/>
<path d="M354.6 144.47L358.18 150.67L351.02 150.67Z" fill="none" stroke="#1ee834" stroke-width="1.05"/>
<path d="M359.0 147.57L362.58 153.77L355.42 153.77Z" fill="none" stroke="#1ee834" stroke-width="1.05"/>
<path d="M294.3 151.27L297.88 157.47L290.72 157.47Z" fill="none" stroke="#1ee834" stroke-width="1.05"/>
<path d="M305.0 123.83L308.58 117.63L301.42 117.63Z" fill="none" stroke="#1ee244" stroke-width="1.05"/>
<path d="M349.1 158.23L352.68 152.03L345.52 152.03Z" fill="none" stroke="#1ee244" stroke-width="1.05"/>
<circle cx="375.1" cy="149.4" r="2.85" fill="none" stroke="#20d262" stroke-width="1.05"/>
<circle cx="390.5" cy="153.0" r="2.85" fill="none" stroke="#20d262" stroke-width="1.05"/>
<circle cx="425.3" cy="168.9" r="2.85" fill="none" stroke="#20d262" stroke-width="1.05"/>
<circle cx="418.9" cy="182.6" r="2.85" fill="none" stroke="#20d262" stroke-width="1.05"/>
<circle cx="420.7" cy="195.9" r="2.85" fill="none" stroke="#20d262" stroke-width="1.05"/>
<rect x="308.22" y="159.32" width="4.96" height="4.96" fill="none" stroke="#20c082" stroke-width="1.05"/>
<rect x="391.72" y="245.42" width="4.96" height="4.96" fill="none" stroke="#20c082" stroke-width="1.05"/>
<rect x="278.42" y="269.12" width="4.96" height="4.96" fill="none" stroke="#20c082" stroke-width="1.05"/>
<rect x="290.22" y="281.52" width="4.96" height="4.96" fill="none" stroke="#20c082" stroke-width="1.05"/>
<rect x="304.62" y="214.02" width="4.96" height="4.96" fill="none" stroke="#20c082" stroke-width="1.05"/>
<rect x="281.62" y="219.02" width="4.96" height="4.96" fill="none" stroke="#20c082" stroke-width="1.05"/>
<path d="M248.1 191.48L251.52 194.9L248.1 198.32L244.68 194.9Z" fill="none" stroke="#20a8a0" stroke-width="1.05"/>
<path d="M281.4 272.68L284.82 276.1L281.4 279.52L277.98 276.1Z" fill="none" stroke="#20a8a0" stroke-width="1.05"/>
<path d="M306.1 278.58L309.52 282.0L306.1 285.42L302.68 282.0Z" fill="none" stroke="#20a8a0" stroke-width="1.05"/>
<path d="M327.5 265.38L330.92 268.8L327.5 272.22L324.08 268.8Z" fill="none" stroke="#20a8a0" stroke-width="1.05"/>
<path d="M212.4 155.47L215.98 161.67L208.82 161.67Z" fill="none" stroke="#1e8ebc" stroke-width="1.05"/>
<path d="M189.0 164.67L192.58 170.87L185.42 170.87Z" fill="none" stroke="#1e8ebc" stroke-width="1.05"/>
<path d="M246.6 179.77L250.18 185.97L243.02 185.97Z" fill="none" stroke="#1e8ebc" stroke-width="1.05"/>
<path d="M255.4 178.87L258.98 185.07L251.82 185.07Z" fill="none" stroke="#1e8ebc" stroke-width="1.05"/>
<path d="M261.8 180.37L265.38 186.57L258.22 186.57Z" fill="none" stroke="#1e8ebc" stroke-width="1.05"/>
<path d="M268.2 184.37L271.78 190.57L264.62 190.57Z" fill="none" stroke="#1e8ebc" stroke-width="1.05"/>
<path d="M279.1 184.37L282.68 190.57L275.52 190.57Z" fill="none" stroke="#1e8ebc" stroke-width="1.05"/>
<path d="M242.6 185.27L246.18 191.47L239.02 191.47Z" fill="none" stroke="#1e8ebc" stroke-width="1.05"/>
<path d="M237.5 188.97L241.08 195.17L233.92 195.17Z" fill="none" stroke="#1e8ebc" stroke-width="1.05"/>
<path d="M267.3 192.57L270.88 198.77L263.72 198.77Z" fill="none" stroke="#1e8ebc" stroke-width="1.05"/>
<path d="M279.5 196.27L283.08 202.47L275.92 202.47Z" fill="none" stroke="#1e8ebc" stroke-width="1.05"/>
<path d="M254.5 199.87L258.08 206.07L250.92 206.07Z" fill="none" stroke="#1e8ebc" stroke-width="1.05"/>
<path d="M249.4 200.47L252.98 206.67L245.82 206.67Z" fill="none" stroke="#1e8ebc" stroke-width="1.05"/>
<path d="M262.7 204.07L266.28 210.27L259.12 210.27Z" fill="none" stroke="#1e8ebc" stroke-width="1.05"/>
<path d="M243.5 200.87L247.08 207.07L239.92 207.07Z" fill="none" stroke="#1e8ebc" stroke-width="1.05"/>
<path d="M234.7 207.77L238.28 213.97L231.12 213.97Z" fill="none" stroke="#1e8ebc" stroke-width="1.05"/>
<path d="M257.2 212.67L260.78 218.87L253.62 218.87Z" fill="none" stroke="#1e8ebc" stroke-width="1.05"/>
<path d="M264.5 209.97L268.08 216.17L260.92 216.17Z" fill="none" stroke="#1e8ebc" stroke-width="1.05"/>
<path d="M197.2 209.57L200.78 215.77L193.62 215.77Z" fill="none" stroke="#1e8ebc" stroke-width="1.05"/>
<path d="M232.2 217.27L235.78 223.47L228.62 223.47Z" fill="none" stroke="#1e8ebc" stroke-width="1.05"/>
<path d="M280.1 215.47L283.68 221.67L276.52 221.67Z" fill="none" stroke="#1e8ebc" stroke-width="1.05"/>
<path d="M293.3 261.97L296.88 268.17L289.72 268.17Z" fill="none" stroke="#1e8ebc" stroke-width="1.05"/>
<path d="M229.7 240.07L233.28 246.27L226.12 246.27Z" fill="none" stroke="#1e8ebc" stroke-width="1.05"/>
<path d="M241.6 247.37L245.18 253.57L238.02 253.57Z" fill="none" stroke="#1e8ebc" stroke-width="1.05"/>
<path d="M242.2 274.27L245.78 280.47L238.62 280.47Z" fill="none" stroke="#1e8ebc" stroke-width="1.05"/>
<path d="M228.8 226.37L232.38 232.57L225.22 232.57Z" fill="none" stroke="#1e8ebc" stroke-width="1.05"/>
<path d="M229.7 238.23L233.28 232.03L226.12 232.03Z" fill="none" stroke="#2070e0" stroke-width="1.05"/>
<path d="M251.0 242.13L254.58 235.93L247.42 235.93Z" fill="none" stroke="#2070e0" stroke-width="1.05"/>
<path d="M266.0 247.13L269.58 240.93L262.42 240.93Z" fill="none" stroke="#2070e0" stroke-width="1.05"/>
<path d="M281.0 252.13L284.58 245.93L277.42 245.93Z" fill="none" stroke="#2070e0" stroke-width="1.05"/>
<path d="M296.0 257.13L299.58 250.93L292.42 250.93Z" fill="none" stroke="#2070e0" stroke-width="1.05"/>
<path d="M308.0 260.13L311.58 253.93L304.42 253.93Z" fill="none" stroke="#2070e0" stroke-width="1.05"/>
<circle cx="268.7" cy="162.5" r="2.85" fill="none" stroke="#3052f0" stroke-width="1.05"/>
<circle cx="272.4" cy="208.6" r="2.85" fill="none" stroke="#3052f0" stroke-width="1.05"/>
<circle cx="302.3" cy="156.3" r="2.85" fill="none" stroke="#3052f0" stroke-width="1.05"/>
<circle cx="313.8" cy="174.6" r="2.85" fill="none" stroke="#3052f0" stroke-width="1.05"/>
<circle cx="359.5" cy="273.9" r="2.85" fill="none" stroke="#3052f0" stroke-width="1.05"/>
<circle cx="290.0" cy="247.8" r="2.85" fill="none" stroke="#3052f0" stroke-width="1.05"/>
<rect x="440.52" y="190.12" width="4.96" height="4.96" fill="none" stroke="#3434f0" stroke-width="1.05"/>
<rect x="439.62" y="198.52" width="4.96" height="4.96" fill="none" stroke="#3434f0" stroke-width="1.05"/>
<rect x="441.42" y="211.22" width="4.96" height="4.96" fill="none" stroke="#3434f0" stroke-width="1.05"/>
<rect x="420.92" y="233.12" width="4.96" height="4.96" fill="none" stroke="#3434f0" stroke-width="1.05"/>
<rect x="405.42" y="243.22" width="4.96" height="4.96" fill="none" stroke="#3434f0" stroke-width="1.05"/>
<rect x="392.62" y="247.22" width="4.96" height="4.96" fill="none" stroke="#3434f0" stroke-width="1.05"/>
<rect x="389.92" y="247.82" width="4.96" height="4.96" fill="none" stroke="#3434f0" stroke-width="1.05"/>
<rect x="390.22" y="214.92" width="4.96" height="4.96" fill="none" stroke="#3434f0" stroke-width="1.05"/>
<rect x="400.82" y="204.82" width="4.96" height="4.96" fill="none" stroke="#3434f0" stroke-width="1.05"/>
<rect x="292.12" y="262.72" width="4.96" height="4.96" fill="none" stroke="#3434f0" stroke-width="1.05"/>
<rect x="342.02" y="254.82" width="4.96" height="4.96" fill="none" stroke="#3434f0" stroke-width="1.05"/>
<rect x="362.42" y="262.72" width="4.96" height="4.96" fill="none" stroke="#3434f0" stroke-width="1.05"/>
<rect x="365.22" y="269.12" width="4.96" height="4.96" fill="none" stroke="#3434f0" stroke-width="1.05"/>
<rect x="295.82" y="252.52" width="4.96" height="4.96" fill="none" stroke="#3434f0" stroke-width="1.05"/>
<rect x="316.72" y="236.02" width="4.96" height="4.96" fill="none" stroke="#3434f0" stroke-width="1.05"/>
<path d="M288.2 159.28L291.62 162.7L288.2 166.12L284.78 162.7Z" fill="none" stroke="#5432f2" stroke-width="1.05"/>
<path d="M403.9 231.28L407.32 234.7L403.9 238.12L400.48 234.7Z" fill="none" stroke="#5432f2" stroke-width="1.05"/>
<path d="M387.2 240.48L390.62 243.9L387.2 247.32L383.78 243.9Z" fill="none" stroke="#5432f2" stroke-width="1.05"/>
<path d="M375.9 234.08L379.32 237.5L375.9 240.92L372.48 237.5Z" fill="none" stroke="#5432f2" stroke-width="1.05"/>
<path d="M353.6 276.78L357.02 280.2L353.6 283.62L350.18 280.2Z" fill="none" stroke="#5432f2" stroke-width="1.05"/>
<path d="M352.7 247.08L356.12 250.5L352.7 253.92L349.28 250.5Z" fill="none" stroke="#5432f2" stroke-width="1.05"/>
<path d="M369.1 244.38L372.52 247.8L369.1 251.22L365.68 247.8Z" fill="none" stroke="#5432f2" stroke-width="1.05"/>
<path d="M298.9 210.28L302.32 213.7L298.9 217.12L295.48 213.7Z" fill="none" stroke="#5432f2" stroke-width="1.05"/>
<path d="M288.5 227.38L291.92 230.8L288.5 234.22L285.08 230.8Z" fill="none" stroke="#5432f2" stroke-width="1.05"/>
<path d="M297.2 215.88L300.62 219.3L297.2 222.72L293.78 219.3Z" fill="none" stroke="#5432f2" stroke-width="1.05"/>
<path d="M289.5 244.38L292.92 247.8L289.5 251.22L286.08 247.8Z" fill="none" stroke="#5432f2" stroke-width="1.05"/>
<path d="M325.7 230.18L329.12 233.6L325.7 237.02L322.28 233.6Z" fill="none" stroke="#5432f2" stroke-width="1.05"/>
<path d="M282.8 160.57L286.38 166.77L279.22 166.77Z" fill="none" stroke="#8032f8" stroke-width="1.05"/>
<path d="M329.7 157.97L333.28 164.17L326.12 164.17Z" fill="none" stroke="#8032f8" stroke-width="1.05"/>
<path d="M296.1 156.17L299.68 162.37L292.52 162.37Z" fill="none" stroke="#8032f8" stroke-width="1.05"/>
<path d="M298.9 176.17L302.48 182.37L295.32 182.37Z" fill="none" stroke="#8032f8" stroke-width="1.05"/>
<path d="M304.4 173.97L307.98 180.17L300.82 180.17Z" fill="none" stroke="#8032f8" stroke-width="1.05"/>
<path d="M299.4 181.07L302.98 187.27L295.82 187.27Z" fill="none" stroke="#8032f8" stroke-width="1.05"/>
<path d="M310.4 179.47L313.98 185.67L306.82 185.67Z" fill="none" stroke="#8032f8" stroke-width="1.05"/>
<path d="M295.0 184.97L298.58 191.17L291.42 191.17Z" fill="none" stroke="#8032f8" stroke-width="1.05"/>
<path d="M382.9 137.93L386.48 131.73L379.32 131.73Z" fill="none" stroke="#a232f8" stroke-width="1.05"/>
<path d="M435.3 134.23L438.88 128.03L431.72 128.03Z" fill="none" stroke="#a232f8" stroke-width="1.05"/>
<path d="M460.0 137.93L463.58 131.73L456.42 131.73Z" fill="none" stroke="#a232f8" stroke-width="1.05"/>
<path d="M394.7 148.53L398.28 142.33L391.12 142.33Z" fill="none" stroke="#a232f8" stroke-width="1.05"/>
<path d="M432.2 156.53L435.78 150.33L428.62 150.33Z" fill="none" stroke="#a232f8" stroke-width="1.05"/>
<path d="M427.5 160.73L431.08 154.53L423.92 154.53Z" fill="none" stroke="#a232f8" stroke-width="1.05"/>
<path d="M435.3 163.53L438.88 157.33L431.72 157.33Z" fill="none" stroke="#a232f8" stroke-width="1.05"/>
<path d="M454.5 174.43L458.08 168.23L450.92 168.23Z" fill="none" stroke="#a232f8" stroke-width="1.05"/>
<path d="M444.1 180.53L447.68 174.33L440.52 174.33Z" fill="none" stroke="#a232f8" stroke-width="1.05"/>
<path d="M436.2 182.73L439.78 176.53L432.62 176.53Z" fill="none" stroke="#a232f8" stroke-width="1.05"/>
<path d="M427.1 180.83L430.68 174.63L423.52 174.63Z" fill="none" stroke="#a232f8" stroke-width="1.05"/>
<path d="M431.7 188.73L435.28 182.53L428.12 182.53Z" fill="none" stroke="#a232f8" stroke-width="1.05"/>
<path d="M402.4 162.53L405.98 156.33L398.82 156.33Z" fill="none" stroke="#a232f8" stroke-width="1.05"/>
<path d="M398.4 173.53L401.98 167.33L394.82 167.33Z" fill="none" stroke="#a232f8" stroke-width="1.05"/>
<path d="M392.4 175.33L395.98 169.13L388.82 169.13Z" fill="none" stroke="#a232f8" stroke-width="1.05"/>
<path d="M418.9 180.83L422.48 174.63L415.32 174.63Z" fill="none" stroke="#a232f8" stroke-width="1.05"/>
<circle cx="371.4" cy="157.6" r="2.85" fill="none" stroke="#c434f0" stroke-width="1.05"/>
<circle cx="412.5" cy="169.4" r="2.85" fill="none" stroke="#c434f0" stroke-width="1.05"/>
<circle cx="412.5" cy="173.1" r="2.85" fill="none" stroke="#c434f0" stroke-width="1.05"/>
<circle cx="418.5" cy="163.9" r="2.85" fill="none" stroke="#c434f0" stroke-width="1.05"/>
<circle cx="415.2" cy="190.4" r="2.85" fill="none" stroke="#c434f0" stroke-width="1.05"/>
<circle cx="431.7" cy="179.5" r="2.85" fill="none" stroke="#c434f0" stroke-width="1.05"/>
<circle cx="398.4" cy="151.1" r="2.85" fill="none" stroke="#c434f0" stroke-width="1.05"/>
<circle cx="411.0" cy="226.5" r="2.85" fill="none" stroke="#c434f0" stroke-width="1.05"/>
<rect x="308.62" y="148.72" width="4.96" height="4.96" fill="none" stroke="#e436ee" stroke-width="1.05"/>
<rect x="291.82" y="160.22" width="4.96" height="4.96" fill="none" stroke="#e436ee" stroke-width="1.05"/>
<path d="M266.8 237.08L270.22 240.5L266.8 243.92L263.38 240.5Z" fill="none" stroke="#ff30ee" stroke-width="1.05"/>
<path d="M325.7 217.58L329.12 221.0L325.7 224.42L322.28 221.0Z" fill="none" stroke="#ff30ee" stroke-width="1.05"/>
<path d="M318.6 253.18L322.02 256.6L318.6 260.02L315.18 256.6Z" fill="none" stroke="#ff30ee" stroke-width="1.05"/>
<path d="M395.5 236.47L399.08 242.67L391.92 242.67Z" fill="none" stroke="#ff30e0" stroke-width="1.05"/>
<path d="M402.4 240.67L405.98 246.87L398.82 246.87Z" fill="none" stroke="#ff30e0" stroke-width="1.05"/>
<path d="M344.5 268.67L348.08 274.87L340.92 274.87Z" fill="none" stroke="#ff30e0" stroke-width="1.05"/>
<path d="M339.4 251.87L342.98 258.07L335.82 258.07Z" fill="none" stroke="#ff30e0" stroke-width="1.05"/>
<path d="M264.8 252.87L268.38 259.07L261.22 259.07Z" fill="none" stroke="#ff30e0" stroke-width="1.05"/>
<path d="M263.0 260.17L266.58 266.37L259.42 266.37Z" fill="none" stroke="#ff30e0" stroke-width="1.05"/>
<path d="M307.1 219.57L310.68 225.77L303.52 225.77Z" fill="none" stroke="#ff30e0" stroke-width="1.05"/>
<path d="M293.9 232.77L297.48 238.97L290.32 238.97Z" fill="none" stroke="#ff30e0" stroke-width="1.05"/>
<path d="M344.8 227.58L348.22 231.0L344.8 234.42L341.38 231.0Z" fill="none" stroke="#20a8a0" stroke-width="1.05"/>
<circle cx="374.8" cy="214.3" r="2.85" fill="none" stroke="#20d262" stroke-width="1.05"/>
<path d="M367.8 225.93L371.38 219.73L364.22 219.73Z" fill="none" stroke="#1ee244" stroke-width="1.05"/>
<path d="M357.0 209.58L360.42 213.0L357.0 216.42L353.58 213.0Z" fill="none" stroke="#ff30ee" stroke-width="1.05"/>
<rect x="316.52" y="217.42" width="4.96" height="4.96" fill="none" stroke="#20c082" stroke-width="1.05"/>
<rect x="362.42" y="199.32" width="4.96" height="4.96" fill="none" stroke="#20c082" stroke-width="1.05"/>
<path d="M363.0 174.38L366.42 177.8L363.0 181.22L359.58 177.8Z" fill="none" stroke="#5432f2" stroke-width="1.05"/>
<path d="M396.0 162.27L399.58 168.47L392.42 168.47Z" fill="none" stroke="#1ee834" stroke-width="1.05"/>
<path d="M306.0 220.38L309.42 223.8L306.0 227.22L302.58 223.8Z" fill="none" stroke="#20a8a0" stroke-width="1.05"/>
<circle cx="364.7" cy="200.1" r="2.85" fill="none" stroke="#c434f0" stroke-width="1.05"/>
<path d="M349.2 197.98L352.62 201.4L349.2 204.82L345.78 201.4Z" fill="none" stroke="#ff30ee" stroke-width="1.05"/>
<circle cx="389.8" cy="177.9" r="2.85" fill="none" stroke="#c434f0" stroke-width="1.05"/>
<path d="M411.3 188.97L414.88 195.17L407.72 195.17Z" fill="none" stroke="#8032f8" stroke-width="1.05"/>
<rect x="315.62" y="243.62" width="4.96" height="4.96" fill="none" stroke="#e436ee" stroke-width="1.05"/>
<path d="M381.5 229.78L384.92 233.2L381.5 236.62L378.08 233.2Z" fill="none" stroke="#5432f2" stroke-width="1.05"/>
<circle cx="367.2" cy="202.5" r="2.85" fill="none" stroke="#20d262" stroke-width="1.05"/>
<path d="M398.1 206.27L401.68 212.47L394.52 212.47Z" fill="none" stroke="#ff30e0" stroke-width="1.05"/>
<path d="M329.8 207.78L333.22 211.2L329.8 214.62L326.38 211.2Z" fill="none" stroke="#5432f2" stroke-width="1.05"/>
<path d="M345.1 220.28L348.52 223.7L345.1 227.12L341.68 223.7Z" fill="none" stroke="#ff30ee" stroke-width="1.05"/>
<circle cx="354.2" cy="227.0" r="2.85" fill="none" stroke="#3052f0" stroke-width="1.05"/>
<path d="M356.1 164.07L359.68 170.27L352.52 170.27Z" fill="none" stroke="#1ee834" stroke-width="1.05"/>
<path d="M365.3 187.87L368.88 194.07L361.72 194.07Z" fill="none" stroke="#8032f8" stroke-width="1.05"/>
<rect x="324.52" y="179.62" width="4.96" height="4.96" fill="none" stroke="#e436ee" stroke-width="1.05"/>
<path d="M383.3 181.93L386.88 175.73L379.72 175.73Z" fill="none" stroke="#a232f8" stroke-width="1.05"/>
<path d="M334.4 181.28L337.82 184.7L334.4 188.12L330.98 184.7Z" fill="none" stroke="#5432f2" stroke-width="1.05"/>
<circle cx="415.5" cy="183.6" r="2.85" fill="none" stroke="#c434f0" stroke-width="1.05"/>
<rect x="377.92" y="240.52" width="4.96" height="4.96" fill="none" stroke="#3434f0" stroke-width="1.05"/>
<circle cx="418.6" cy="178.8" r="2.85" fill="none" stroke="#20d262" stroke-width="1.05"/>
<rect x="361.22" y="217.52" width="4.96" height="4.96" fill="none" stroke="#3434f0" stroke-width="1.05"/>
<rect x="310.52" y="196.12" width="4.96" height="4.96" fill="none" stroke="#3434f0" stroke-width="1.05"/>
<path d="M340.5 216.48L343.92 219.9L340.5 223.32L337.08 219.9Z" fill="none" stroke="#ff30ee" stroke-width="1.05"/>
<rect x="366.42" y="193.12" width="4.96" height="4.96" fill="none" stroke="#20c082" stroke-width="1.05"/>
<circle cx="395.6" cy="166.1" r="2.85" fill="none" stroke="#c434f0" stroke-width="1.05"/>
<path d="M393.8 206.27L397.38 212.47L390.22 212.47Z" fill="none" stroke="#ff30e0" stroke-width="1.05"/>
<circle cx="376.8" cy="186.9" r="2.85" fill="none" stroke="#c434f0" stroke-width="1.05"/>
<path d="M285.9 199.68L289.32 203.1L285.9 206.52L282.48 203.1Z" fill="none" stroke="#ff30ee" stroke-width="1.05"/>
<circle cx="326.2" cy="201.3" r="2.85" fill="none" stroke="#20d262" stroke-width="1.05"/>
<path d="M346.5 213.78L349.92 217.2L346.5 220.62L343.08 217.2Z" fill="none" stroke="#5432f2" stroke-width="1.05"/>
<path d="M374.2 195.43L377.78 189.23L370.62 189.23Z" fill="none" stroke="#1ee244" stroke-width="1.05"/>
<circle cx="356.7" cy="191.1" r="2.85" fill="none" stroke="#20d262" stroke-width="1.05"/>
<path d="M411.5 172.27L415.08 178.47L407.92 178.47Z" fill="none" stroke="#8032f8" stroke-width="1.05"/>
<path d="M381.2 225.38L384.62 228.8L381.2 232.22L377.78 228.8Z" fill="none" stroke="#ff30ee" stroke-width="1.05"/>
<path d="M351.9 251.57L355.48 257.77L348.32 257.77Z" fill="none" stroke="#ff30e0" stroke-width="1.05"/>
<path d="M358.7 217.33L362.28 211.13L355.12 211.13Z" fill="none" stroke="#1ee244" stroke-width="1.05"/>
<path d="M364.8 174.87L368.38 181.07L361.22 181.07Z" fill="none" stroke="#ff30e0" stroke-width="1.05"/>
<path d="M310.6 217.68L314.02 221.1L310.6 224.52L307.18 221.1Z" fill="none" stroke="#5432f2" stroke-width="1.05"/>
<circle cx="371.9" cy="226.7" r="2.85" fill="none" stroke="#c434f0" stroke-width="1.05"/>
<path d="M405.1 169.13L408.68 162.93L401.52 162.93Z" fill="none" stroke="#a232f8" stroke-width="1.05"/>
<path d="M293.2 206.77L296.78 212.97L289.62 212.97Z" fill="none" stroke="#ff30e0" stroke-width="1.05"/>
<path d="M345.7 198.48L349.12 201.9L345.7 205.32L342.28 201.9Z" fill="none" stroke="#5432f2" stroke-width="1.05"/>
<rect x="324.22" y="238.42" width="4.96" height="4.96" fill="none" stroke="#20c082" stroke-width="1.05"/>
<path d="M324.2 230.47L327.78 236.67L320.62 236.67Z" fill="none" stroke="#ff30e0" stroke-width="1.05"/>
<path d="M400.8 177.73L404.38 171.53L397.22 171.53Z" fill="none" stroke="#a232f8" stroke-width="1.05"/>
<path d="M394.8 177.57L398.38 183.77L391.22 183.77Z" fill="none" stroke="#8032f8" stroke-width="1.05"/>
<path d="M385.7 229.08L389.12 232.5L385.7 235.92L382.28 232.5Z" fill="none" stroke="#ff30ee" stroke-width="1.05"/>
<path d="M321.6 208.37L325.18 214.57L318.02 214.57Z" fill="none" stroke="#ff30e0" stroke-width="1.05"/>
<circle cx="393.9" cy="207.3" r="2.85" fill="none" stroke="#c434f0" stroke-width="1.05"/>
<path d="M386.4 194.47L389.98 200.67L382.82 200.67Z" fill="none" stroke="#8032f8" stroke-width="1.05"/>
<circle cx="390.8" cy="192.7" r="2.85" fill="none" stroke="#20d262" stroke-width="1.05"/>
<path d="M403.6 220.77L407.18 226.97L400.02 226.97Z" fill="none" stroke="#8032f8" stroke-width="1.05"/>
<path d="M383.5 202.88L386.92 206.3L383.5 209.72L380.08 206.3Z" fill="none" stroke="#ff30ee" stroke-width="1.05"/>
<path d="M390.0 210.67L393.58 216.87L386.42 216.87Z" fill="none" stroke="#1ee834" stroke-width="1.05"/>
<rect x="380.82" y="188.92" width="4.96" height="4.96" fill="none" stroke="#e436ee" stroke-width="1.05"/>
<circle cx="418.1" cy="185.3" r="2.85" fill="none" stroke="#3052f0" stroke-width="1.05"/>
<circle cx="353.6" cy="240.0" r="2.85" fill="none" stroke="#3052f0" stroke-width="1.05"/>
<path d="M368.3 199.67L371.88 205.87L364.72 205.87Z" fill="none" stroke="#1ee834" stroke-width="1.05"/>
<path d="M300.4 219.48L303.82 222.9L300.4 226.32L296.98 222.9Z" fill="none" stroke="#ff30ee" stroke-width="1.05"/>
<rect x="390.02" y="230.32" width="4.96" height="4.96" fill="none" stroke="#3434f0" stroke-width="1.05"/>
<rect x="361.02" y="247.32" width="4.96" height="4.96" fill="none" stroke="#20c082" stroke-width="1.05"/>
<path d="M416.2 166.97L419.78 173.17L412.62 173.17Z" fill="none" stroke="#8032f8" stroke-width="1.05"/>
<path d="M409.5 172.83L413.08 166.63L405.92 166.63Z" fill="none" stroke="#a232f8" stroke-width="1.05"/>
<path d="M322.8 182.57L326.38 188.77L319.22 188.77Z" fill="none" stroke="#1ee834" stroke-width="1.05"/>
<path d="M369.4 190.87L372.98 197.07L365.82 197.07Z" fill="none" stroke="#1ee834" stroke-width="1.05"/>
<path d="M348.2 188.17L351.78 194.37L344.62 194.37Z" fill="none" stroke="#8032f8" stroke-width="1.05"/>
<rect x="375.72" y="224.92" width="4.96" height="4.96" fill="none" stroke="#3434f0" stroke-width="1.05"/>
<rect x="327.12" y="190.62" width="4.96" height="4.96" fill="none" stroke="#e436ee" stroke-width="1.05"/>
<path d="M378.5 187.43L382.08 181.23L374.92 181.23Z" fill="none" stroke="#a232f8" stroke-width="1.05"/>
<path d="M387.8 190.77L391.38 196.97L384.22 196.97Z" fill="none" stroke="#8032f8" stroke-width="1.05"/>
<path d="M291.7 222.18L295.12 225.6L291.7 229.02L288.28 225.6Z" fill="none" stroke="#20a8a0" stroke-width="1.05"/>
<circle cx="327.3" cy="232.0" r="2.85" fill="none" stroke="#3052f0" stroke-width="1.05"/>
<rect x="367.12" y="203.72" width="4.96" height="4.96" fill="none" stroke="#e436ee" stroke-width="1.05"/>
<path d="M345.4 231.98L348.82 235.4L345.4 238.82L341.98 235.4Z" fill="none" stroke="#5432f2" stroke-width="1.05"/>
<path d="M314.6 203.58L318.02 207.0L314.6 210.42L311.18 207.0Z" fill="none" stroke="#5432f2" stroke-width="1.05"/>
<path d="M402.4 173.53L405.98 167.33L398.82 167.33Z" fill="none" stroke="#1ee244" stroke-width="1.05"/>
<rect x="348.52" y="201.52" width="4.96" height="4.96" fill="none" stroke="#20c082" stroke-width="1.05"/>
<path d="M341.0 220.33L344.58 214.13L337.42 214.13Z" fill="none" stroke="#1ee244" stroke-width="1.05"/>
<path d="M394.7 221.03L398.28 214.83L391.12 214.83Z" fill="none" stroke="#1ee244" stroke-width="1.05"/>
<circle cx="399.4" cy="229.9" r="2.85" fill="none" stroke="#3052f0" stroke-width="1.05"/>
<path d="M328.6 223.28L332.02 226.7L328.6 230.12L325.18 226.7Z" fill="none" stroke="#5432f2" stroke-width="1.05"/>
<path d="M324.8 183.83L328.38 177.63L321.22 177.63Z" fill="none" stroke="#1ee244" stroke-width="1.05"/>
<path d="M325.4 226.68L328.82 230.1L325.4 233.52L321.98 230.1Z" fill="none" stroke="#ff30ee" stroke-width="1.05"/>
<circle cx="362.3" cy="205.5" r="2.85" fill="none" stroke="#20d262" stroke-width="1.05"/>
<path d="M305.7 194.73L309.28 188.53L302.12 188.53Z" fill="none" stroke="#1ee244" stroke-width="1.05"/>
<rect x="333.52" y="223.22" width="4.96" height="4.96" fill="none" stroke="#3434f0" stroke-width="1.05"/>
<path d="M365.2 217.03L368.78 210.83L361.62 210.83Z" fill="none" stroke="#1ee244" stroke-width="1.05"/>
<path d="M345.9 228.97L349.48 235.17L342.32 235.17Z" fill="none" stroke="#ff30e0" stroke-width="1.05"/>
<path d="M378.8 220.23L382.38 214.03L375.22 214.03Z" fill="none" stroke="#1ee244" stroke-width="1.05"/>
<rect x="354.72" y="220.42" width="4.96" height="4.96" fill="none" stroke="#20c082" stroke-width="1.05"/>
<path d="M387.4 174.13L390.98 167.93L383.82 167.93Z" fill="none" stroke="#1ee244" stroke-width="1.05"/>
<path d="M347.6 208.38L351.02 211.8L347.6 215.22L344.18 211.8Z" fill="none" stroke="#5432f2" stroke-width="1.05"/>
<path d="M303.1 222.33L306.68 216.13L299.52 216.13Z" fill="none" stroke="#1ee244" stroke-width="1.05"/>
<rect x="321.72" y="190.82" width="4.96" height="4.96" fill="none" stroke="#e436ee" stroke-width="1.05"/>
<circle cx="400.3" cy="196.8" r="2.85" fill="none" stroke="#c434f0" stroke-width="1.05"/>
<path d="M355.1 220.58L358.52 224.0L355.1 227.42L351.68 224.0Z" fill="none" stroke="#ff30ee" stroke-width="1.05"/>
<circle cx="403.3" cy="224.9" r="2.85" fill="none" stroke="#c434f0" stroke-width="1.05"/>
<circle cx="362.4" cy="211.1" r="2.85" fill="none" stroke="#3052f0" stroke-width="1.05"/>
<rect x="323.12" y="250.52" width="4.96" height="4.96" fill="none" stroke="#20c082" stroke-width="1.05"/>
<rect x="310.82" y="206.02" width="4.96" height="4.96" fill="none" stroke="#e436ee" stroke-width="1.05"/>
<path d="M357.3 212.53L360.88 206.33L353.72 206.33Z" fill="none" stroke="#1ee244" stroke-width="1.05"/>
<circle cx="397.0" cy="182.1" r="2.85" fill="none" stroke="#c434f0" stroke-width="1.05"/>
<path d="M332.4 219.68L335.82 223.1L332.4 226.52L328.98 223.1Z" fill="none" stroke="#5432f2" stroke-width="1.05"/>
<circle cx="360.1" cy="211.4" r="2.85" fill="none" stroke="#20d262" stroke-width="1.05"/>
<path d="M377.6 191.37L381.18 197.57L374.02 197.57Z" fill="none" stroke="#8032f8" stroke-width="1.05"/>
<path d="M302.4 206.03L305.98 199.83L298.82 199.83Z" fill="none" stroke="#1ee244" stroke-width="1.05"/>
<path d="M385.2 214.33L388.78 208.13L381.62 208.13Z" fill="none" stroke="#1ee244" stroke-width="1.05"/>
<rect x="346.72" y="226.22" width="4.96" height="4.96" fill="none" stroke="#e436ee" stroke-width="1.05"/>
<circle cx="336.0" cy="207.3" r="2.85" fill="none" stroke="#20d262" stroke-width="1.05"/>
<path d="M323.7 247.18L327.12 250.6L323.7 254.02L320.28 250.6Z" fill="none" stroke="#20a8a0" stroke-width="1.05"/>
<path d="M305.7 223.58L309.12 227.0L305.7 230.42L302.28 227.0Z" fill="none" stroke="#5432f2" stroke-width="1.05"/>
<path d="M349.1 208.88L352.52 212.3L349.1 215.72L345.68 212.3Z" fill="none" stroke="#ff30ee" stroke-width="1.05"/>
<rect x="316.72" y="229.62" width="4.96" height="4.96" fill="none" stroke="#e436ee" stroke-width="1.05"/>
<path d="M402.9 194.67L406.48 200.87L399.32 200.87Z" fill="none" stroke="#8032f8" stroke-width="1.05"/>
<circle cx="420.2" cy="182.6" r="2.85" fill="none" stroke="#c434f0" stroke-width="1.05"/>
<rect x="345.82" y="237.22" width="4.96" height="4.96" fill="none" stroke="#e436ee" stroke-width="1.05"/>
<path d="M407.3 173.67L410.88 179.87L403.72 179.87Z" fill="none" stroke="#8032f8" stroke-width="1.05"/>
<path d="M310.5 187.27L314.08 193.47L306.92 193.47Z" fill="none" stroke="#1ee834" stroke-width="1.05"/>
<path d="M378.9 175.33L382.48 169.13L375.32 169.13Z" fill="none" stroke="#a232f8" stroke-width="1.05"/>
<path d="M393.6 225.23L397.18 219.03L390.02 219.03Z" fill="none" stroke="#1ee244" stroke-width="1.05"/>
<rect x="389.02" y="240.92" width="4.96" height="4.96" fill="none" stroke="#3434f0" stroke-width="1.05"/>
<circle cx="348.8" cy="191.7" r="2.85" fill="none" stroke="#20d262" stroke-width="1.05"/>
<path d="M350.5 228.08L353.92 231.5L350.5 234.92L347.08 231.5Z" fill="none" stroke="#5432f2" stroke-width="1.05"/>
<rect x="329.02" y="233.42" width="4.96" height="4.96" fill="none" stroke="#3434f0" stroke-width="1.05"/>
<path d="M374.7 209.57L378.28 215.77L371.12 215.77Z" fill="none" stroke="#ff30e0" stroke-width="1.05"/>
<rect x="381.72" y="166.32" width="4.96" height="4.96" fill="none" stroke="#e436ee" stroke-width="1.05"/>
<circle cx="351.7" cy="257.0" r="2.85" fill="none" stroke="#3052f0" stroke-width="1.05"/>
<path d="M336.8 195.57L340.38 201.77L333.22 201.77Z" fill="none" stroke="#ff30e0" stroke-width="1.05"/>
<path d="M349.8 225.23L353.38 219.03L346.22 219.03Z" fill="none" stroke="#1ee244" stroke-width="1.05"/>
<path d="M348.8 235.87L352.38 242.07L345.22 242.07Z" fill="none" stroke="#ff30e0" stroke-width="1.05"/>
<rect x="294.82" y="221.82" width="4.96" height="4.96" fill="none" stroke="#e436ee" stroke-width="1.05"/>
<path d="M329.1 169.58L332.52 173.0L329.1 176.42L325.68 173.0Z" fill="none" stroke="#5432f2" stroke-width="1.05"/>
<path d="M337.5 205.68L340.92 209.1L337.5 212.52L334.08 209.1Z" fill="none" stroke="#ff30ee" stroke-width="1.05"/>
<circle cx="405.8" cy="200.5" r="2.85" fill="none" stroke="#c434f0" stroke-width="1.05"/>
<rect x="362.42" y="235.22" width="4.96" height="4.96" fill="none" stroke="#3434f0" stroke-width="1.05"/>
<path d="M375.8 195.27L379.38 201.47L372.22 201.47Z" fill="none" stroke="#ff30e0" stroke-width="1.05"/>
<path d="M315.0 226.08L318.42 229.5L315.0 232.92L311.58 229.5Z" fill="none" stroke="#20a8a0" stroke-width="1.05"/>
<circle cx="353.5" cy="197.2" r="2.85" fill="none" stroke="#20d262" stroke-width="1.05"/>
<path d="M369.8 203.83L373.38 197.63L366.22 197.63Z" fill="none" stroke="#1ee244" stroke-width="1.05"/>
<rect x="329.42" y="193.02" width="4.96" height="4.96" fill="none" stroke="#20c082" stroke-width="1.05"/>
<path d="M389.9 215.97L393.48 222.17L386.32 222.17Z" fill="none" stroke="#1ee834" stroke-width="1.05"/>
<circle cx="366.1" cy="191.0" r="2.85" fill="none" stroke="#20d262" stroke-width="1.05"/>
<path d="M323.5 224.88L326.92 228.3L323.5 231.72L320.08 228.3Z" fill="none" stroke="#5432f2" stroke-width="1.05"/>
<path d="M296.9 213.93L300.48 207.73L293.32 207.73Z" fill="none" stroke="#1ee244" stroke-width="1.05"/>
<path d="M351.7 209.18L355.12 212.6L351.7 216.02L348.28 212.6Z" fill="none" stroke="#5432f2" stroke-width="1.05"/>
<rect x="330.12" y="230.72" width="4.96" height="4.96" fill="none" stroke="#e436ee" stroke-width="1.05"/>
<rect x="309.22" y="233.22" width="4.96" height="4.96" fill="none" stroke="#20c082" stroke-width="1.05"/>
<circle cx="292.4" cy="205.1" r="2.85" fill="none" stroke="#3052f0" stroke-width="1.05"/>
<path d="M341.1 208.47L344.68 214.67L337.52 214.67Z" fill="none" stroke="#ff30e0" stroke-width="1.05"/>
<path d="M330.6 234.97L334.18 241.17L327.02 241.17Z" fill="none" stroke="#ff30e0" stroke-width="1.05"/>
<path d="M369.2 170.18L372.62 173.6L369.2 177.02L365.78 173.6Z" fill="none" stroke="#ff30ee" stroke-width="1.05"/>
<circle cx="379.4" cy="184.1" r="2.85" fill="none" stroke="#20d262" stroke-width="1.05"/>
<path d="M369.9 184.27L373.48 190.47L366.32 190.47Z" fill="none" stroke="#1ee834" stroke-width="1.05"/>
<circle cx="393.2" cy="222.0" r="2.85" fill="none" stroke="#c434f0" stroke-width="1.05"/>
<path d="M407.0 185.87L410.58 192.07L403.42 192.07Z" fill="none" stroke="#8032f8" stroke-width="1.05"/>
<path d="M411.1 181.87L414.68 188.07L407.52 188.07Z" fill="none" stroke="#8032f8" stroke-width="1.05"/>
<path d="M331.5 208.28L334.92 211.7L331.5 215.12L328.08 211.7Z" fill="none" stroke="#ff30ee" stroke-width="1.05"/>
<rect x="376.32" y="208.12" width="4.96" height="4.96" fill="none" stroke="#20c082" stroke-width="1.05"/>
<rect x="348.82" y="229.42" width="4.96" height="4.96" fill="none" stroke="#20c082" stroke-width="1.05"/>
<path d="M365.7 215.18L369.12 218.6L365.7 222.02L362.28 218.6Z" fill="none" stroke="#20a8a0" stroke-width="1.05"/>
<rect x="353.42" y="189.22" width="4.96" height="4.96" fill="none" stroke="#20c082" stroke-width="1.05"/>
<path d="M348.9 164.27L352.48 170.47L345.32 170.47Z" fill="none" stroke="#1ee834" stroke-width="1.05"/>
<path d="M402.2 173.67L405.78 179.87L398.62 179.87Z" fill="none" stroke="#8032f8" stroke-width="1.05"/>
<path d="M307.2 239.08L310.62 242.5L307.2 245.92L303.78 242.5Z" fill="none" stroke="#20a8a0" stroke-width="1.05"/>
<rect x="317.72" y="224.12" width="4.96" height="4.96" fill="none" stroke="#20c082" stroke-width="1.05"/>
<circle cx="305.8" cy="232.4" r="2.85" fill="none" stroke="#3052f0" stroke-width="1.05"/>
<path d="M304.5 242.78L307.92 246.2L304.5 249.62L301.08 246.2Z" fill="none" stroke="#20a8a0" stroke-width="1.05"/>
<path d="M364.1 173.57L367.68 179.77L360.52 179.77Z" fill="none" stroke="#8032f8" stroke-width="1.05"/>
<rect x="307.72" y="228.12" width="4.96" height="4.96" fill="none" stroke="#e436ee" stroke-width="1.05"/>
<rect x="353.72" y="205.02" width="4.96" height="4.96" fill="none" stroke="#e436ee" stroke-width="1.05"/>
<rect x="372.92" y="163.32" width="4.96" height="4.96" fill="none" stroke="#20c082" stroke-width="1.05"/>
<path d="M351.5 217.57L355.08 223.77L347.92 223.77Z" fill="none" stroke="#ff30e0" stroke-width="1.05"/>
<path d="M376.6 189.57L380.18 195.77L373.02 195.77Z" fill="none" stroke="#1ee834" stroke-width="1.05"/>
<rect x="374.02" y="203.22" width="4.96" height="4.96" fill="none" stroke="#3434f0" stroke-width="1.05"/>
<path d="M357.0 196.17L360.58 202.37L353.42 202.37Z" fill="none" stroke="#ff30e0" stroke-width="1.05"/>
<path d="M317.9 188.78L321.32 192.2L317.9 195.62L314.48 192.2Z" fill="none" stroke="#ff30ee" stroke-width="1.05"/>
<path d="M359.4 213.47L362.98 219.67L355.82 219.67Z" fill="none" stroke="#1ee834" stroke-width="1.05"/>
<circle cx="373.0" cy="244.5" r="2.85" fill="none" stroke="#3052f0" stroke-width="1.05"/>
<path d="M345.3 170.77L348.88 176.97L341.72 176.97Z" fill="none" stroke="#8032f8" stroke-width="1.05"/>
<rect x="316.42" y="243.02" width="4.96" height="4.96" fill="none" stroke="#20c082" stroke-width="1.05"/>
<circle cx="330.4" cy="193.0" r="2.85" fill="none" stroke="#3052f0" stroke-width="1.05"/>
<path d="M391.8 181.87L395.38 188.07L388.22 188.07Z" fill="none" stroke="#8032f8" stroke-width="1.05"/>
<path d="M386.2 179.97L389.78 186.17L382.62 186.17Z" fill="none" stroke="#1ee834" stroke-width="1.05"/>
<rect x="353.42" y="227.02" width="4.96" height="4.96" fill="none" stroke="#e436ee" stroke-width="1.05"/>
<circle cx="364.9" cy="186.8" r="2.85" fill="none" stroke="#c434f0" stroke-width="1.05"/>
<circle cx="360.7" cy="244.1" r="2.85" fill="none" stroke="#3052f0" stroke-width="1.05"/>
<path d="M359.7 231.48L363.12 234.9L359.7 238.32L356.28 234.9Z" fill="none" stroke="#20a8a0" stroke-width="1.05"/>
<circle cx="383.8" cy="196.8" r="2.85" fill="none" stroke="#20d262" stroke-width="1.05"/>
<rect x="399.62" y="219.52" width="4.96" height="4.96" fill="none" stroke="#3434f0" stroke-width="1.05"/>
<path d="M376.5 222.68L379.92 226.1L376.5 229.52L373.08 226.1Z" fill="none" stroke="#5432f2" stroke-width="1.05"/>
<path d="M290.4 209.88L293.82 213.3L290.4 216.72L286.98 213.3Z" fill="none" stroke="#ff30ee" stroke-width="1.05"/>
<circle cx="379.0" cy="206.4" r="2.85" fill="none" stroke="#20d262" stroke-width="1.05"/>
<rect x="343.92" y="200.62" width="4.96" height="4.96" fill="none" stroke="#3434f0" stroke-width="1.05"/>
<circle cx="364.1" cy="218.1" r="2.85" fill="none" stroke="#c434f0" stroke-width="1.05"/>
<path d="M376.4 198.97L379.98 205.17L372.82 205.17Z" fill="none" stroke="#1ee834" stroke-width="1.05"/>
<path d="M344.6 173.93L348.18 167.73L341.02 167.73Z" fill="none" stroke="#1ee244" stroke-width="1.05"/>
<rect x="326.52" y="225.12" width="4.96" height="4.96" fill="none" stroke="#3434f0" stroke-width="1.05"/>
<path d="M290.0 195.98L293.42 199.4L290.0 202.82L286.58 199.4Z" fill="none" stroke="#ff30ee" stroke-width="1.05"/>
<rect x="300.92" y="234.82" width="4.96" height="4.96" fill="none" stroke="#e436ee" stroke-width="1.05"/>
<circle cx="341.8" cy="172.5" r="2.85" fill="none" stroke="#3052f0" stroke-width="1.05"/>
<circle cx="313.3" cy="177.2" r="2.85" fill="none" stroke="#3052f0" stroke-width="1.05"/>
<circle cx="399.0" cy="202.7" r="2.85" fill="none" stroke="#20d262" stroke-width="1.05"/>
<rect x="336.52" y="226.82" width="4.96" height="4.96" fill="none" stroke="#e436ee" stroke-width="1.05"/>
<path d="M324.3 232.48L327.72 235.9L324.3 239.32L320.88 235.9Z" fill="none" stroke="#5432f2" stroke-width="1.05"/>
<path d="M398.1 227.33L401.68 221.13L394.52 221.13Z" fill="none" stroke="#1ee244" stroke-width="1.05"/>
<circle cx="297.4" cy="217.2" r="2.85" fill="none" stroke="#3052f0" stroke-width="1.05"/>
<path d="M369.4 238.88L372.82 242.3L369.4 245.72L365.98 242.3Z" fill="none" stroke="#20a8a0" stroke-width="1.05"/>
<path d="M364.5 196.58L367.92 200.0L364.5 203.42L361.08 200.0Z" fill="none" stroke="#ff30ee" stroke-width="1.05"/>
<rect x="359.22" y="220.72" width="4.96" height="4.96" fill="none" stroke="#20c082" stroke-width="1.05"/>
<path d="M345.8 217.17L349.38 223.37L342.22 223.37Z" fill="none" stroke="#ff30e0" stroke-width="1.05"/>
<path d="M342.5 177.77L346.08 183.97L338.92 183.97Z" fill="none" stroke="#1ee834" stroke-width="1.05"/>
<path d="M366.9 190.83L370.48 184.63L363.32 184.63Z" fill="none" stroke="#1ee244" stroke-width="1.05"/>
<circle cx="346.4" cy="219.7" r="2.85" fill="none" stroke="#20d262" stroke-width="1.05"/>
<rect x="321.12" y="219.12" width="4.96" height="4.96" fill="none" stroke="#3434f0" stroke-width="1.05"/>
<path d="M342.0 215.37L345.58 221.57L338.42 221.57Z" fill="none" stroke="#ff30e0" stroke-width="1.05"/>
<circle cx="353.1" cy="179.2" r="2.85" fill="none" stroke="#3052f0" stroke-width="1.05"/>
<path d="M395.6 205.48L399.02 208.9L395.6 212.32L392.18 208.9Z" fill="none" stroke="#ff30ee" stroke-width="1.05"/>
<circle cx="371.9" cy="205.6" r="2.85" fill="none" stroke="#3052f0" stroke-width="1.05"/>
<circle cx="382.1" cy="191.5" r="2.85" fill="none" stroke="#c434f0" stroke-width="1.05"/>
<circle cx="362.4" cy="192.1" r="2.85" fill="none" stroke="#c434f0" stroke-width="1.05"/>
<path d="M312.1 209.68L315.52 213.1L312.1 216.52L308.68 213.1Z" fill="none" stroke="#20a8a0" stroke-width="1.05"/>
<path d="M363.3 192.07L366.88 198.27L359.72 198.27Z" fill="none" stroke="#1ee834" stroke-width="1.05"/>
<rect x="304.52" y="213.82" width="4.96" height="4.96" fill="none" stroke="#3434f0" stroke-width="1.05"/>
<rect x="331.32" y="210.32" width="4.96" height="4.96" fill="none" stroke="#e436ee" stroke-width="1.05"/>
<path d="M346.1 177.48L349.52 180.9L346.1 184.32L342.68 180.9Z" fill="none" stroke="#5432f2" stroke-width="1.05"/>
<path d="M389.4 180.73L392.98 174.53L385.82 174.53Z" fill="none" stroke="#a232f8" stroke-width="1.05"/>
<path d="M364.3 231.67L367.88 237.87L360.72 237.87Z" fill="none" stroke="#ff30e0" stroke-width="1.05"/>
<circle cx="412.0" cy="206.4" r="2.85" fill="none" stroke="#20d262" stroke-width="1.05"/>
<path d="M325.5 213.08L328.92 216.5L325.5 219.92L322.08 216.5Z" fill="none" stroke="#20a8a0" stroke-width="1.05"/>
<circle cx="406.3" cy="190.5" r="2.85" fill="none" stroke="#20d262" stroke-width="1.05"/>
<path d="M320.9 217.67L324.48 223.87L317.32 223.87Z" fill="none" stroke="#ff30e0" stroke-width="1.05"/>
<path d="M362.4 178.03L365.98 171.83L358.82 171.83Z" fill="none" stroke="#1ee244" stroke-width="1.05"/>
<path d="M312.3 211.73L315.88 205.53L308.72 205.53Z" fill="none" stroke="#1ee244" stroke-width="1.05"/>
<circle cx="384.3" cy="199.6" r="2.85" fill="none" stroke="#c434f0" stroke-width="1.05"/>
<path d="M322.7 234.18L326.12 237.6L322.7 241.02L319.28 237.6Z" fill="none" stroke="#20a8a0" stroke-width="1.05"/>
<path d="M346.9 225.28L350.32 228.7L346.9 232.12L343.48 228.7Z" fill="none" stroke="#ff30ee" stroke-width="1.05"/>
<circle cx="401.1" cy="176.1" r="2.85" fill="none" stroke="#c434f0" stroke-width="1.05"/>
<path d="M325.3 220.27L328.88 226.47L321.72 226.47Z" fill="none" stroke="#ff30e0" stroke-width="1.05"/>
<rect x="326.02" y="206.42" width="4.96" height="4.96" fill="none" stroke="#3434f0" stroke-width="1.05"/>
<circle cx="349.8" cy="200.7" r="2.85" fill="none" stroke="#3052f0" stroke-width="1.05"/>
<circle cx="348.4" cy="213.0" r="2.85" fill="none" stroke="#20d262" stroke-width="1.05"/>
<path d="M340.6 200.67L344.18 206.87L337.02 206.87Z" fill="none" stroke="#1ee834" stroke-width="1.05"/>
</g>
<g id="ell" fill="none" stroke-width="1.25">
<ellipse cx="154.0" cy="136.0" rx="43.1" ry="20.9" transform="rotate(93.5 154.0 136.0)" stroke="#f02a30"/>
<ellipse cx="229.0" cy="129.9" rx="64.6" ry="39.4" transform="rotate(77.1 229.0 129.9)" stroke="#ff3a20"/>
<ellipse cx="124.7" cy="87.1" rx="38.5" ry="30.6" transform="rotate(95.3 124.7 87.1)" stroke="#ff4c1c"/>
<ellipse cx="190.8" cy="122.3" rx="64.0" ry="33.9" transform="rotate(35.0 190.8 122.3)" stroke="#ff661a"/>
<ellipse cx="194.8" cy="167.6" rx="60.8" ry="43.5" transform="rotate(47.6 194.8 167.6)" stroke="#ff7e1e"/>
<ellipse cx="201.0" cy="140.0" rx="44.8" ry="19.1" transform="rotate(26.0 201.0 140.0)" stroke="#ff9228"/>
<ellipse cx="180.3" cy="170.3" rx="64.6" ry="47.3" transform="rotate(124.8 180.3 170.3)" stroke="#ffa02c"/>
<ellipse cx="225.2" cy="342.0" rx="60.3" ry="47.0" transform="rotate(84.6 225.2 342.0)" stroke="#ffae22"/>
<ellipse cx="184.0" cy="356.5" rx="71.9" ry="36.8" transform="rotate(112.6 184.0 356.5)" stroke="#f2b81a"/>
<ellipse cx="225.0" cy="267.2" rx="47.4" ry="31.6" transform="rotate(119.1 225.0 267.2)" stroke="#d0c020"/>
<ellipse cx="220.7" cy="256.8" rx="45.9" ry="41.4" transform="rotate(98.8 220.7 256.8)" stroke="#a6d020"/>
<ellipse cx="179.6" cy="262.1" rx="61.3" ry="29.7" transform="rotate(24.3 179.6 262.1)" stroke="#30dc20"/>
<ellipse cx="358.9" cy="180.3" rx="66.7" ry="35.0" transform="rotate(40.8 358.9 180.3)" stroke="#1ee834"/>
<ellipse cx="352.0" cy="198.0" rx="48.0" ry="30.0" transform="rotate(15.0 352.0 198.0)" stroke="#1ee244"/>
<ellipse cx="372.0" cy="196.0" rx="50.0" ry="30.0" transform="rotate(-10.0 372.0 196.0)" stroke="#20d262"/>
<ellipse cx="326.0" cy="223.0" rx="50.0" ry="37.0" transform="rotate(12.0 326.0 223.0)" stroke="#20c082"/>
<ellipse cx="312.0" cy="226.0" rx="50.0" ry="31.0" transform="rotate(15.0 312.0 226.0)" stroke="#20a8a0"/>
<ellipse cx="258.5" cy="211.1" rx="48.4" ry="33.6" transform="rotate(27.9 258.5 211.1)" stroke="#1e8ebc"/>
<ellipse cx="275.5" cy="246.0" rx="43.5" ry="6.0" transform="rotate(18.5 275.5 246.0)" stroke="#2070e0"/>
<ellipse cx="335.4" cy="209.7" rx="53.3" ry="44.2" transform="rotate(20.5 335.4 209.7)" stroke="#3052f0"/>
<ellipse cx="365.8" cy="224.6" rx="61.1" ry="36.9" transform="rotate(-8.0 365.8 224.6)" stroke="#3434f0"/>
<ellipse cx="333.0" cy="207.0" rx="44.0" ry="40.5" transform="rotate(0.0 333.0 207.0)" stroke="#5432f2"/>
<ellipse cx="390.0" cy="182.0" rx="34.0" ry="26.0" transform="rotate(-15.0 390.0 182.0)" stroke="#8032f8"/>
<ellipse cx="411.3" cy="168.0" rx="36.0" ry="24.0" transform="rotate(-20.0 411.3 168.0)" stroke="#a232f8"/>
<ellipse cx="383.0" cy="186.0" rx="42.0" ry="26.0" transform="rotate(-5.0 383.0 186.0)" stroke="#c434f0"/>
<ellipse cx="339.1" cy="220.2" rx="65.3" ry="41.7" transform="rotate(-19.1 339.1 220.2)" stroke="#e436ee"/>
<ellipse cx="332.0" cy="212.0" rx="50.0" ry="38.0" transform="rotate(10.0 332.0 212.0)" stroke="#ff30ee"/>
<ellipse cx="345.0" cy="215.0" rx="52.0" ry="36.0" transform="rotate(5.0 345.0 215.0)" stroke="#ff30e0"/>
</g>
<text x="10.9" y="25.2" font-size="14.6" font-weight="bold" fill="#000">(b)</text>
<rect x="489.2" y="5.9" width="52.900000000000034" height="324.40000000000003" fill="#ebebeb" stroke="#4d4d4d" stroke-width="1.3"/>
<rect x="4.9" y="5.9" width="537.2" height="536.9" fill="none" stroke="#4d4d4d" stroke-width="1.8"/>
<circle cx="497.2" cy="16.8" r="3.0" fill="none" stroke="#f02a30" stroke-width="1.0"/>
<text x="505.0" y="20.10" font-size="9" fill="#000" stroke="#000" stroke-width="0.3">B-CNR</text>
<rect x="494.59" y="24.99" width="5.22" height="5.22" fill="none" stroke="#ff3a20" stroke-width="1.0"/>
<text x="505.0" y="30.90" font-size="9" fill="#000" stroke="#000" stroke-width="0.3">B-NLP</text>
<path d="M497.2 34.8L500.8 38.4L497.2 42.0L493.6 38.4Z" fill="none" stroke="#ff4c1c" stroke-width="1.0"/>
<text x="505.0" y="41.70" font-size="9" fill="#000" stroke="#000" stroke-width="0.3">N-TPL</text>
<path d="M497.2 44.85L500.97 51.38L493.43 51.38Z" fill="none" stroke="#ff661a" stroke-width="1.0"/>
<text x="505.0" y="52.50" font-size="9" fill="#000" stroke="#000" stroke-width="0.3">N-BYG</text>
<path d="M497.2 64.35L500.97 57.83L493.43 57.83Z" fill="none" stroke="#ff7e1e" stroke-width="1.0"/>
<text x="505.0" y="63.30" font-size="9" fill="#000" stroke="#000" stroke-width="0.3">W-AND</text>
<circle cx="497.2" cy="70.8" r="3.0" fill="none" stroke="#ff9228" stroke-width="1.0"/>
<text x="505.0" y="74.10" font-size="9" fill="#000" stroke="#000" stroke-width="0.3">W-SAN</text>
<rect x="494.59" y="78.99" width="5.22" height="5.22" fill="none" stroke="#ffa02c" stroke-width="1.0"/>
<text x="505.0" y="84.90" font-size="9" fill="#000" stroke="#000" stroke-width="0.3">W-ILM</text>
<path d="M497.2 88.8L500.8 92.4L497.2 96.0L493.6 92.4Z" fill="none" stroke="#ffae22" stroke-width="1.0"/>
<text x="505.0" y="95.70" font-size="9" fill="#000" stroke="#000" stroke-width="0.3">W-CMY</text>
<path d="M497.2 98.85L500.97 105.38L493.43 105.38Z" fill="none" stroke="#f2b81a" stroke-width="1.0"/>
<text x="505.0" y="106.50" font-size="9" fill="#000" stroke="#000" stroke-width="0.3">W-MOR</text>
<path d="M497.2 118.35L500.97 111.83L493.43 111.83Z" fill="none" stroke="#d0c020" stroke-width="1.0"/>
<text x="505.0" y="117.30" font-size="9" fill="#000" stroke="#000" stroke-width="0.3">D-BLT</text>
<circle cx="497.2" cy="124.8" r="3.0" fill="none" stroke="#a6d020" stroke-width="1.0"/>
<text x="505.0" y="128.10" font-size="9" fill="#000" stroke="#000" stroke-width="0.3">D-MCH</text>
<rect x="494.59" y="132.99" width="5.22" height="5.22" fill="none" stroke="#7edc20" stroke-width="1.0"/>
<text x="505.0" y="138.90" font-size="9" fill="#000" stroke="#000" stroke-width="0.3">D-HNR</text>
<path d="M497.2 142.8L500.8 146.4L497.2 150.0L493.6 146.4Z" fill="none" stroke="#30dc20" stroke-width="1.0"/>
<text x="505.0" y="149.70" font-size="9" fill="#000" stroke="#000" stroke-width="0.3">D-LMB</text>
<path d="M497.2 152.85L500.97 159.38L493.43 159.38Z" fill="none" stroke="#1ee834" stroke-width="1.0"/>
<text x="505.0" y="160.50" font-size="9" fill="#000" stroke="#000" stroke-width="0.3">E-PNT</text>
<path d="M497.2 172.35L500.97 165.82L493.43 165.82Z" fill="none" stroke="#1ee244" stroke-width="1.0"/>
<text x="505.0" y="171.30" font-size="9" fill="#000" stroke="#000" stroke-width="0.3">E-CGB</text>
<circle cx="497.2" cy="178.8" r="3.0" fill="none" stroke="#20d262" stroke-width="1.0"/>
<text x="505.0" y="182.10" font-size="9" fill="#000" stroke="#000" stroke-width="0.3">E-BAC</text>
<rect x="494.59" y="186.99" width="5.22" height="5.22" fill="none" stroke="#20c082" stroke-width="1.0"/>
<text x="505.0" y="192.90" font-size="9" fill="#000" stroke="#000" stroke-width="0.3">E-SSB</text>
<path d="M497.2 196.8L500.8 200.4L497.2 204.0L493.6 200.4Z" fill="none" stroke="#20a8a0" stroke-width="1.0"/>
<text x="505.0" y="203.70" font-size="9" fill="#000" stroke="#000" stroke-width="0.3">E-BLM</text>
<path d="M497.2 206.85L500.97 213.38L493.43 213.38Z" fill="none" stroke="#1e8ebc" stroke-width="1.0"/>
<text x="505.0" y="214.50" font-size="9" fill="#000" stroke="#000" stroke-width="0.3">P-HND</text>
<path d="M497.2 226.35L500.97 219.82L493.43 219.82Z" fill="none" stroke="#2070e0" stroke-width="1.0"/>
<text x="505.0" y="225.30" font-size="9" fill="#000" stroke="#000" stroke-width="0.3">P-PPB</text>
<circle cx="497.2" cy="232.8" r="3.0" fill="none" stroke="#3052f0" stroke-width="1.0"/>
<text x="505.0" y="236.10" font-size="9" fill="#000" stroke="#000" stroke-width="0.3">V-UNB</text>
<rect x="494.59" y="240.99" width="5.22" height="5.22" fill="none" stroke="#3434f0" stroke-width="1.0"/>
<text x="505.0" y="246.90" font-size="9" fill="#000" stroke="#000" stroke-width="0.3">V-STN</text>
<path d="M497.2 250.8L500.8 254.4L497.2 258.0L493.6 254.4Z" fill="none" stroke="#5432f2" stroke-width="1.0"/>
<text x="505.0" y="257.70" font-size="9" fill="#000" stroke="#000" stroke-width="0.3">V-ALB</text>
<path d="M497.2 260.85L500.97 267.38L493.43 267.38Z" fill="none" stroke="#8032f8" stroke-width="1.0"/>
<text x="505.0" y="268.50" font-size="9" fill="#000" stroke="#000" stroke-width="0.3">V-PAB</text>
<path d="M497.2 280.35L500.97 273.82L493.43 273.82Z" fill="none" stroke="#a232f8" stroke-width="1.0"/>
<text x="505.0" y="279.30" font-size="9" fill="#000" stroke="#000" stroke-width="0.3">M-OPL</text>
<circle cx="497.2" cy="286.8" r="3.0" fill="none" stroke="#c434f0" stroke-width="1.0"/>
<text x="505.0" y="290.10" font-size="9" fill="#000" stroke="#000" stroke-width="0.3">M-LGD</text>
<rect x="494.59" y="294.99" width="5.22" height="5.22" fill="none" stroke="#e436ee" stroke-width="1.0"/>
<text x="505.0" y="300.90" font-size="9" fill="#000" stroke="#000" stroke-width="0.3">M-RIZ</text>
<path d="M497.2 304.8L500.8 308.4L497.2 312.0L493.6 308.4Z" fill="none" stroke="#ff30ee" stroke-width="1.0"/>
<text x="505.0" y="311.70" font-size="9" fill="#000" stroke="#000" stroke-width="0.3">M-BAT</text>
<path d="M497.2 314.85L500.97 321.38L493.43 321.38Z" fill="none" stroke="#ff30e0" stroke-width="1.0"/>
<text x="505.0" y="322.50" font-size="9" fill="#000" stroke="#000" stroke-width="0.3">M-SAG</text>
<rect x="396.3" y="397.6" width="134.90000000000003" height="134.39999999999998" fill="#ececec" stroke="#4d4d4d" stroke-width="1.4"/>
<rect x="400.70" y="409.0" width="4.52" height="123.0" fill="#808080" stroke="#151515" stroke-width="1.0"/>
<rect x="405.22" y="471.2" width="4.52" height="60.8" fill="#5a5a5a" stroke="#151515" stroke-width="1.0"/>
<rect x="409.74" y="483.6" width="4.52" height="48.4" fill="#fff" stroke="#151515" stroke-width="1.0"/>
<rect x="414.26" y="494.3" width="4.52" height="37.7" fill="#fff" stroke="#151515" stroke-width="1.0"/>
<rect x="418.78" y="502.8" width="4.52" height="29.2" fill="#fff" stroke="#151515" stroke-width="1.0"/>
<rect x="423.30" y="506.7" width="4.52" height="25.3" fill="#fff" stroke="#151515" stroke-width="1.0"/>
<rect x="427.82" y="508.1" width="4.52" height="23.9" fill="#fff" stroke="#151515" stroke-width="1.0"/>
<rect x="432.34" y="510.2" width="4.52" height="21.8" fill="#fff" stroke="#151515" stroke-width="1.0"/>
<rect x="436.86" y="513.4" width="4.52" height="18.6" fill="#fff" stroke="#151515" stroke-width="1.0"/>
<rect x="441.38" y="513.7" width="4.52" height="18.3" fill="#fff" stroke="#151515" stroke-width="1.0"/>
<rect x="445.90" y="516.6" width="4.52" height="15.4" fill="#fff" stroke="#151515" stroke-width="1.0"/>
<rect x="450.42" y="517.5" width="4.52" height="14.5" fill="#fff" stroke="#151515" stroke-width="1.0"/>
<rect x="454.94" y="519.2" width="4.52" height="12.8" fill="#fff" stroke="#151515" stroke-width="1.0"/>
<rect x="459.46" y="521.2" width="4.52" height="10.8" fill="#fff" stroke="#151515" stroke-width="1.0"/>
<rect x="463.98" y="522.3" width="4.52" height="9.7" fill="#fff" stroke="#151515" stroke-width="1.0"/>
<rect x="468.50" y="523" width="4.52" height="9.0" fill="#fff" stroke="#151515" stroke-width="1.0"/>
<rect x="473.02" y="523.9" width="4.52" height="8.1" fill="#fff" stroke="#151515" stroke-width="1.0"/>
<rect x="477.54" y="525" width="4.52" height="7.0" fill="#fff" stroke="#151515" stroke-width="1.0"/>
<rect x="482.06" y="526.2" width="4.52" height="5.8" fill="#fff" stroke="#151515" stroke-width="1.0"/>
<rect x="486.58" y="527.4" width="4.52" height="4.6" fill="#fff" stroke="#151515" stroke-width="1.0"/>
<rect x="491.10" y="528.3" width="4.52" height="3.7" fill="#fff" stroke="#151515" stroke-width="1.0"/>
<rect x="495.62" y="529.1" width="4.52" height="2.9" fill="#fff" stroke="#151515" stroke-width="1.0"/>
<rect x="500.14" y="529.7" width="4.52" height="2.3" fill="#fff" stroke="#151515" stroke-width="1.0"/>
<rect x="504.66" y="530" width="4.52" height="2.0" fill="#fff" stroke="#151515" stroke-width="1.0"/>
<rect x="509.18" y="530.6" width="4.52" height="1.4" fill="#fff" stroke="#151515" stroke-width="1.0"/>
<rect x="513.70" y="530.9" width="4.52" height="1.1" fill="#fff" stroke="#151515" stroke-width="1.0"/>
<rect x="518.22" y="531.2" width="4.52" height="0.8" fill="#fff" stroke="#151515" stroke-width="1.0"/>
<rect x="522.74" y="531.5" width="4.52" height="0.5" fill="#fff" stroke="#151515" stroke-width="1.0"/>
<text x="432.2" y="412.9" font-size="12.8" fill="#000" stroke="#000" stroke-width="0.15">DA eigenvalues</text>
</svg>
</body></html>
